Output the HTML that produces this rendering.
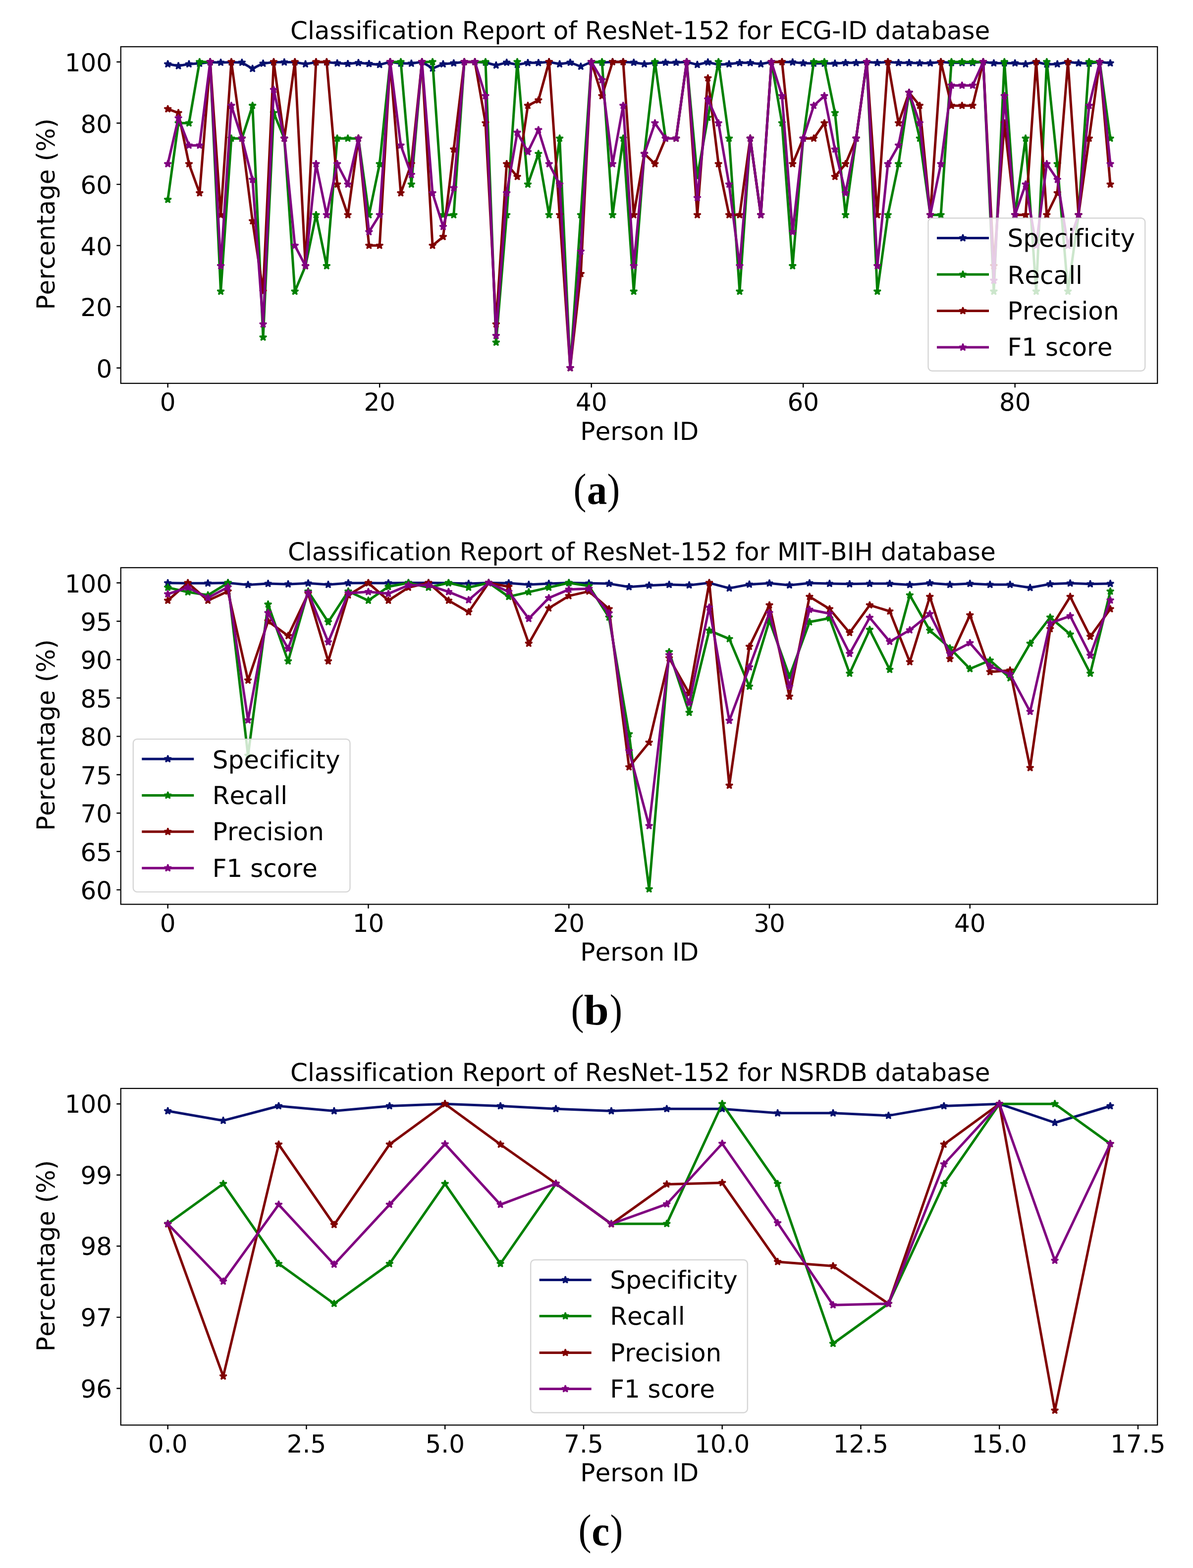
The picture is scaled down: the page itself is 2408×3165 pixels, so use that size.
<!DOCTYPE html>
<html lang="en">
<head>
<meta charset="utf-8">
<title>Classification Report of ResNet-152</title>
<style>
html,body{margin:0;padding:0;background:#fff;}
body{width:2408px;height:3165px;overflow:hidden;}
svg{display:block;}
.t{font-family:"DejaVu Sans", "Liberation Sans", sans-serif;font-size:50px;fill:#000;font-kerning:none;font-variant-ligatures:none;text-rendering:geometricPrecision;}
.cap{font-family:"Liberation Serif", "DejaVu Serif", serif;font-size:100px;fill:#000;}
.cap .b{font-weight:bold;}
.ln{fill:none;stroke-width:5;stroke-linejoin:round;}
.mk{stroke-width:2.78;stroke-linejoin:bevel;}
.tk{fill:none;stroke:#000;stroke-width:2.4;}
.sp{fill:none;stroke:#000;stroke-width:2.2;stroke-linejoin:miter;}
.lg{fill:#fff;fill-opacity:.8;stroke:#ccc;stroke-opacity:.8;stroke-width:2.4;}
</style>
</head>
<body>
<svg width="2408" height="3165" viewBox="0 0 2408 3165">
<rect width="2408" height="3165" fill="#fff"/>
<g class="chart">
<text class="t" x="1292.2" y="78.6" text-anchor="middle" font-size="50">Classification Report of ResNet-152 for ECG-ID database</text>
<clipPath id="c0"><rect x="243.8" y="94.3" width="2092.4" height="679.5"/></clipPath>
<g clip-path="url(#c0)">
<polyline class="ln" stroke="#06106e" points="338.7,129.32 360.07,133.03 381.45,129.32 402.82,128.09 424.2,125.62 445.57,126.24 466.95,125.62 488.32,126.24 509.7,138.59 531.08,128.09 552.45,125.62 573.83,125.62 595.2,125.62 616.58,129.32 637.95,125.62 659.33,125.62 680.7,127.47 702.08,128.71 723.45,126.85 744.83,128.71 766.2,130.56 787.58,125 808.95,128.09 830.33,128.09 851.7,125 873.08,137.97 894.45,129.32 915.83,127.47 937.2,125 958.58,125 979.95,126.24 1001.33,131.79 1022.7,126.24 1044.08,130.56 1065.45,126.85 1086.83,126.85 1108.2,125 1129.58,129.32 1150.95,126.24 1172.33,134.27 1193.7,125 1215.08,126.24 1236.45,125 1257.83,125 1279.2,126.24 1300.58,129.32 1321.95,126.85 1343.33,126.24 1364.7,126.24 1386.08,125 1407.45,130.56 1428.83,125.62 1450.2,130.56 1471.58,129.32 1492.95,126.85 1514.33,126.85 1535.7,129.32 1557.08,125 1578.45,125 1599.83,125.62 1621.2,127.47 1642.58,128.09 1663.95,128.09 1685.33,128.09 1706.7,126.85 1728.08,126.85 1749.45,125 1770.83,126.85 1792.2,125 1813.58,126.85 1834.95,126.85 1856.33,127.47 1877.7,127.47 1899.08,125 1920.45,126.85 1941.83,126.85 1963.2,126.85 1984.58,125 2005.95,127.47 2027.33,127.47 2048.7,127.47 2070.07,129.32 2091.45,125 2112.82,129.94 2134.2,129.32 2155.57,125 2176.95,127.47 2198.32,128.09 2219.7,125 2241.07,127.47"/>
<path class="mk" fill="#06106e" stroke="#06106e" d="M338.7 121.92L340.36 127.04L345.74 127.04L341.39 130.2L343.05 135.31L338.7 132.15L334.35 135.31L336.01 130.2L331.66 127.04L337.04 127.04ZM360.07 125.63L361.74 130.74L367.11 130.74L362.76 133.9L364.42 139.02L360.07 135.86L355.73 139.02L357.39 133.9L353.04 130.74L358.41 130.74ZM381.45 121.92L383.11 127.04L388.49 127.04L384.14 130.2L385.8 135.31L381.45 132.15L377.1 135.31L378.76 130.2L374.41 127.04L379.79 127.04ZM402.82 120.69L404.49 125.8L409.86 125.8L405.51 128.96L407.17 134.08L402.82 130.92L398.48 134.08L400.14 128.96L395.79 125.8L401.16 125.8ZM424.2 118.22L425.86 123.33L431.24 123.33L426.89 126.49L428.55 131.6L424.2 128.44L419.85 131.6L421.51 126.49L417.16 123.33L422.54 123.33ZM445.57 118.84L447.24 123.95L452.61 123.95L448.26 127.11L449.92 132.22L445.57 129.06L441.23 132.22L442.89 127.11L438.54 123.95L443.91 123.95ZM466.95 118.22L468.61 123.33L473.99 123.33L469.64 126.49L471.3 131.6L466.95 128.44L462.6 131.6L464.26 126.49L459.91 123.33L465.29 123.33ZM488.32 118.84L489.99 123.95L495.36 123.95L491.01 127.11L492.67 132.22L488.32 129.06L483.98 132.22L485.64 127.11L481.29 123.95L486.66 123.95ZM509.7 131.19L511.36 136.3L516.74 136.3L512.39 139.46L514.05 144.58L509.7 141.42L505.35 144.58L507.01 139.46L502.66 136.3L508.04 136.3ZM531.08 120.69L532.74 125.8L538.11 125.8L533.76 128.96L535.42 134.08L531.08 130.92L526.73 134.08L528.39 128.96L524.04 125.8L529.41 125.8ZM552.45 118.22L554.11 123.33L559.49 123.33L555.14 126.49L556.8 131.6L552.45 128.44L548.1 131.6L549.76 126.49L545.41 123.33L550.79 123.33ZM573.83 118.22L575.49 123.33L580.86 123.33L576.51 126.49L578.17 131.6L573.83 128.44L569.48 131.6L571.14 126.49L566.79 123.33L572.16 123.33ZM595.2 118.22L596.86 123.33L602.24 123.33L597.89 126.49L599.55 131.6L595.2 128.44L590.85 131.6L592.51 126.49L588.16 123.33L593.54 123.33ZM616.58 121.92L618.24 127.04L623.61 127.04L619.26 130.2L620.92 135.31L616.58 132.15L612.23 135.31L613.89 130.2L609.54 127.04L614.91 127.04ZM637.95 118.22L639.61 123.33L644.99 123.33L640.64 126.49L642.3 131.6L637.95 128.44L633.6 131.6L635.26 126.49L630.91 123.33L636.29 123.33ZM659.33 118.22L660.99 123.33L666.36 123.33L662.01 126.49L663.67 131.6L659.33 128.44L654.98 131.6L656.64 126.49L652.29 123.33L657.66 123.33ZM680.7 120.07L682.36 125.18L687.74 125.18L683.39 128.34L685.05 133.46L680.7 130.3L676.35 133.46L678.01 128.34L673.66 125.18L679.04 125.18ZM702.08 121.31L703.74 126.42L709.11 126.42L704.76 129.58L706.42 134.69L702.08 131.53L697.73 134.69L699.39 129.58L695.04 126.42L700.41 126.42ZM723.45 119.45L725.11 124.57L730.49 124.57L726.14 127.73L727.8 132.84L723.45 129.68L719.1 132.84L720.76 127.73L716.41 124.57L721.79 124.57ZM744.83 121.31L746.49 126.42L751.86 126.42L747.51 129.58L749.17 134.69L744.83 131.53L740.48 134.69L742.14 129.58L737.79 126.42L743.16 126.42ZM766.2 123.16L767.86 128.27L773.24 128.27L768.89 131.43L770.55 136.55L766.2 133.39L761.85 136.55L763.51 131.43L759.16 128.27L764.54 128.27ZM787.58 117.6L789.24 122.71L794.61 122.71L790.26 125.87L791.92 130.99L787.58 127.83L783.23 130.99L784.89 125.87L780.54 122.71L785.91 122.71ZM808.95 120.69L810.61 125.8L815.99 125.8L811.64 128.96L813.3 134.08L808.95 130.92L804.6 134.08L806.26 128.96L801.91 125.8L807.29 125.8ZM830.33 120.69L831.99 125.8L837.36 125.8L833.01 128.96L834.67 134.08L830.33 130.92L825.98 134.08L827.64 128.96L823.29 125.8L828.66 125.8ZM851.7 117.6L853.36 122.71L858.74 122.71L854.39 125.87L856.05 130.99L851.7 127.83L847.35 130.99L849.01 125.87L844.66 122.71L850.04 122.71ZM873.08 130.57L874.74 135.68L880.11 135.68L875.76 138.85L877.42 143.96L873.08 140.8L868.73 143.96L870.39 138.85L866.04 135.68L871.41 135.68ZM894.45 121.92L896.11 127.04L901.49 127.04L897.14 130.2L898.8 135.31L894.45 132.15L890.1 135.31L891.76 130.2L887.41 127.04L892.79 127.04ZM915.83 120.07L917.49 125.18L922.86 125.18L918.51 128.34L920.17 133.46L915.83 130.3L911.48 133.46L913.14 128.34L908.79 125.18L914.16 125.18ZM937.2 117.6L938.86 122.71L944.24 122.71L939.89 125.87L941.55 130.99L937.2 127.83L932.85 130.99L934.51 125.87L930.16 122.71L935.54 122.71ZM958.58 117.6L960.24 122.71L965.61 122.71L961.26 125.87L962.92 130.99L958.58 127.83L954.23 130.99L955.89 125.87L951.54 122.71L956.91 122.71ZM979.95 118.84L981.61 123.95L986.99 123.95L982.64 127.11L984.3 132.22L979.95 129.06L975.6 132.22L977.26 127.11L972.91 123.95L978.29 123.95ZM1001.33 124.39L1002.99 129.51L1008.36 129.51L1004.01 132.67L1005.67 137.78L1001.33 134.62L996.98 137.78L998.64 132.67L994.29 129.51L999.66 129.51ZM1022.7 118.84L1024.36 123.95L1029.74 123.95L1025.39 127.11L1027.05 132.22L1022.7 129.06L1018.35 132.22L1020.01 127.11L1015.66 123.95L1021.04 123.95ZM1044.08 123.16L1045.74 128.27L1051.11 128.27L1046.76 131.43L1048.42 136.55L1044.08 133.39L1039.73 136.55L1041.39 131.43L1037.04 128.27L1042.41 128.27ZM1065.45 119.45L1067.11 124.57L1072.49 124.57L1068.14 127.73L1069.8 132.84L1065.45 129.68L1061.1 132.84L1062.76 127.73L1058.41 124.57L1063.79 124.57ZM1086.83 119.45L1088.49 124.57L1093.86 124.57L1089.51 127.73L1091.17 132.84L1086.83 129.68L1082.48 132.84L1084.14 127.73L1079.79 124.57L1085.16 124.57ZM1108.2 117.6L1109.86 122.71L1115.24 122.71L1110.89 125.87L1112.55 130.99L1108.2 127.83L1103.85 130.99L1105.51 125.87L1101.16 122.71L1106.54 122.71ZM1129.58 121.92L1131.24 127.04L1136.61 127.04L1132.26 130.2L1133.92 135.31L1129.58 132.15L1125.23 135.31L1126.89 130.2L1122.54 127.04L1127.91 127.04ZM1150.95 118.84L1152.61 123.95L1157.99 123.95L1153.64 127.11L1155.3 132.22L1150.95 129.06L1146.6 132.22L1148.26 127.11L1143.91 123.95L1149.29 123.95ZM1172.33 126.87L1173.99 131.98L1179.36 131.98L1175.01 135.14L1176.67 140.25L1172.33 137.09L1167.98 140.25L1169.64 135.14L1165.29 131.98L1170.66 131.98ZM1193.7 117.6L1195.36 122.71L1200.74 122.71L1196.39 125.87L1198.05 130.99L1193.7 127.83L1189.35 130.99L1191.01 125.87L1186.66 122.71L1192.04 122.71ZM1215.08 118.84L1216.74 123.95L1222.11 123.95L1217.76 127.11L1219.42 132.22L1215.08 129.06L1210.73 132.22L1212.39 127.11L1208.04 123.95L1213.41 123.95ZM1236.45 117.6L1238.11 122.71L1243.49 122.71L1239.14 125.87L1240.8 130.99L1236.45 127.83L1232.1 130.99L1233.76 125.87L1229.41 122.71L1234.79 122.71ZM1257.83 117.6L1259.49 122.71L1264.86 122.71L1260.51 125.87L1262.17 130.99L1257.83 127.83L1253.48 130.99L1255.14 125.87L1250.79 122.71L1256.16 122.71ZM1279.2 118.84L1280.86 123.95L1286.24 123.95L1281.89 127.11L1283.55 132.22L1279.2 129.06L1274.85 132.22L1276.51 127.11L1272.16 123.95L1277.54 123.95ZM1300.58 121.92L1302.24 127.04L1307.61 127.04L1303.26 130.2L1304.92 135.31L1300.58 132.15L1296.23 135.31L1297.89 130.2L1293.54 127.04L1298.91 127.04ZM1321.95 119.45L1323.61 124.57L1328.99 124.57L1324.64 127.73L1326.3 132.84L1321.95 129.68L1317.6 132.84L1319.26 127.73L1314.91 124.57L1320.29 124.57ZM1343.33 118.84L1344.99 123.95L1350.36 123.95L1346.01 127.11L1347.67 132.22L1343.33 129.06L1338.98 132.22L1340.64 127.11L1336.29 123.95L1341.66 123.95ZM1364.7 118.84L1366.36 123.95L1371.74 123.95L1367.39 127.11L1369.05 132.22L1364.7 129.06L1360.35 132.22L1362.01 127.11L1357.66 123.95L1363.04 123.95ZM1386.08 117.6L1387.74 122.71L1393.11 122.71L1388.76 125.87L1390.42 130.99L1386.08 127.83L1381.73 130.99L1383.39 125.87L1379.04 122.71L1384.41 122.71ZM1407.45 123.16L1409.11 128.27L1414.49 128.27L1410.14 131.43L1411.8 136.55L1407.45 133.39L1403.1 136.55L1404.76 131.43L1400.41 128.27L1405.79 128.27ZM1428.83 118.22L1430.49 123.33L1435.86 123.33L1431.51 126.49L1433.17 131.6L1428.83 128.44L1424.48 131.6L1426.14 126.49L1421.79 123.33L1427.16 123.33ZM1450.2 123.16L1451.86 128.27L1457.24 128.27L1452.89 131.43L1454.55 136.55L1450.2 133.39L1445.85 136.55L1447.51 131.43L1443.16 128.27L1448.54 128.27ZM1471.58 121.92L1473.24 127.04L1478.61 127.04L1474.26 130.2L1475.92 135.31L1471.58 132.15L1467.23 135.31L1468.89 130.2L1464.54 127.04L1469.91 127.04ZM1492.95 119.45L1494.61 124.57L1499.99 124.57L1495.64 127.73L1497.3 132.84L1492.95 129.68L1488.6 132.84L1490.26 127.73L1485.91 124.57L1491.29 124.57ZM1514.33 119.45L1515.99 124.57L1521.36 124.57L1517.01 127.73L1518.67 132.84L1514.33 129.68L1509.98 132.84L1511.64 127.73L1507.29 124.57L1512.66 124.57ZM1535.7 121.92L1537.36 127.04L1542.74 127.04L1538.39 130.2L1540.05 135.31L1535.7 132.15L1531.35 135.31L1533.01 130.2L1528.66 127.04L1534.04 127.04ZM1557.08 117.6L1558.74 122.71L1564.11 122.71L1559.76 125.87L1561.42 130.99L1557.08 127.83L1552.73 130.99L1554.39 125.87L1550.04 122.71L1555.41 122.71ZM1578.45 117.6L1580.11 122.71L1585.49 122.71L1581.14 125.87L1582.8 130.99L1578.45 127.83L1574.1 130.99L1575.76 125.87L1571.41 122.71L1576.79 122.71ZM1599.83 118.22L1601.49 123.33L1606.86 123.33L1602.51 126.49L1604.17 131.6L1599.83 128.44L1595.48 131.6L1597.14 126.49L1592.79 123.33L1598.16 123.33ZM1621.2 120.07L1622.86 125.18L1628.24 125.18L1623.89 128.34L1625.55 133.46L1621.2 130.3L1616.85 133.46L1618.51 128.34L1614.16 125.18L1619.54 125.18ZM1642.58 120.69L1644.24 125.8L1649.61 125.8L1645.26 128.96L1646.92 134.08L1642.58 130.92L1638.23 134.08L1639.89 128.96L1635.54 125.8L1640.91 125.8ZM1663.95 120.69L1665.61 125.8L1670.99 125.8L1666.64 128.96L1668.3 134.08L1663.95 130.92L1659.6 134.08L1661.26 128.96L1656.91 125.8L1662.29 125.8ZM1685.33 120.69L1686.99 125.8L1692.36 125.8L1688.01 128.96L1689.67 134.08L1685.33 130.92L1680.98 134.08L1682.64 128.96L1678.29 125.8L1683.66 125.8ZM1706.7 119.45L1708.36 124.57L1713.74 124.57L1709.39 127.73L1711.05 132.84L1706.7 129.68L1702.35 132.84L1704.01 127.73L1699.66 124.57L1705.04 124.57ZM1728.08 119.45L1729.74 124.57L1735.11 124.57L1730.76 127.73L1732.42 132.84L1728.08 129.68L1723.73 132.84L1725.39 127.73L1721.04 124.57L1726.41 124.57ZM1749.45 117.6L1751.11 122.71L1756.49 122.71L1752.14 125.87L1753.8 130.99L1749.45 127.83L1745.1 130.99L1746.76 125.87L1742.41 122.71L1747.79 122.71ZM1770.83 119.45L1772.49 124.57L1777.86 124.57L1773.51 127.73L1775.17 132.84L1770.83 129.68L1766.48 132.84L1768.14 127.73L1763.79 124.57L1769.16 124.57ZM1792.2 117.6L1793.86 122.71L1799.24 122.71L1794.89 125.87L1796.55 130.99L1792.2 127.83L1787.85 130.99L1789.51 125.87L1785.16 122.71L1790.54 122.71ZM1813.58 119.45L1815.24 124.57L1820.61 124.57L1816.26 127.73L1817.92 132.84L1813.58 129.68L1809.23 132.84L1810.89 127.73L1806.54 124.57L1811.91 124.57ZM1834.95 119.45L1836.61 124.57L1841.99 124.57L1837.64 127.73L1839.3 132.84L1834.95 129.68L1830.6 132.84L1832.26 127.73L1827.91 124.57L1833.29 124.57ZM1856.33 120.07L1857.99 125.18L1863.36 125.18L1859.01 128.34L1860.67 133.46L1856.33 130.3L1851.98 133.46L1853.64 128.34L1849.29 125.18L1854.66 125.18ZM1877.7 120.07L1879.36 125.18L1884.74 125.18L1880.39 128.34L1882.05 133.46L1877.7 130.3L1873.35 133.46L1875.01 128.34L1870.66 125.18L1876.04 125.18ZM1899.08 117.6L1900.74 122.71L1906.11 122.71L1901.76 125.87L1903.42 130.99L1899.08 127.83L1894.73 130.99L1896.39 125.87L1892.04 122.71L1897.41 122.71ZM1920.45 119.45L1922.11 124.57L1927.49 124.57L1923.14 127.73L1924.8 132.84L1920.45 129.68L1916.1 132.84L1917.76 127.73L1913.41 124.57L1918.79 124.57ZM1941.83 119.45L1943.49 124.57L1948.86 124.57L1944.51 127.73L1946.17 132.84L1941.83 129.68L1937.48 132.84L1939.14 127.73L1934.79 124.57L1940.16 124.57ZM1963.2 119.45L1964.86 124.57L1970.24 124.57L1965.89 127.73L1967.55 132.84L1963.2 129.68L1958.85 132.84L1960.51 127.73L1956.16 124.57L1961.54 124.57ZM1984.58 117.6L1986.24 122.71L1991.61 122.71L1987.26 125.87L1988.92 130.99L1984.58 127.83L1980.23 130.99L1981.89 125.87L1977.54 122.71L1982.91 122.71ZM2005.95 120.07L2007.61 125.18L2012.99 125.18L2008.64 128.34L2010.3 133.46L2005.95 130.3L2001.6 133.46L2003.26 128.34L1998.91 125.18L2004.29 125.18ZM2027.33 120.07L2028.99 125.18L2034.36 125.18L2030.01 128.34L2031.67 133.46L2027.33 130.3L2022.98 133.46L2024.64 128.34L2020.29 125.18L2025.66 125.18ZM2048.7 120.07L2050.36 125.18L2055.74 125.18L2051.39 128.34L2053.05 133.46L2048.7 130.3L2044.35 133.46L2046.01 128.34L2041.66 125.18L2047.04 125.18ZM2070.07 121.92L2071.74 127.04L2077.11 127.04L2072.76 130.2L2074.42 135.31L2070.07 132.15L2065.73 135.31L2067.39 130.2L2063.04 127.04L2068.41 127.04ZM2091.45 117.6L2093.11 122.71L2098.49 122.71L2094.14 125.87L2095.8 130.99L2091.45 127.83L2087.1 130.99L2088.76 125.87L2084.41 122.71L2089.79 122.71ZM2112.82 122.54L2114.49 127.65L2119.86 127.65L2115.51 130.82L2117.17 135.93L2112.82 132.77L2108.48 135.93L2110.14 130.82L2105.79 127.65L2111.16 127.65ZM2134.2 121.92L2135.86 127.04L2141.24 127.04L2136.89 130.2L2138.55 135.31L2134.2 132.15L2129.85 135.31L2131.51 130.2L2127.16 127.04L2132.54 127.04ZM2155.57 117.6L2157.24 122.71L2162.61 122.71L2158.26 125.87L2159.92 130.99L2155.57 127.83L2151.23 130.99L2152.89 125.87L2148.54 122.71L2153.91 122.71ZM2176.95 120.07L2178.61 125.18L2183.99 125.18L2179.64 128.34L2181.3 133.46L2176.95 130.3L2172.6 133.46L2174.26 128.34L2169.91 125.18L2175.29 125.18ZM2198.32 120.69L2199.99 125.8L2205.36 125.8L2201.01 128.96L2202.67 134.08L2198.32 130.92L2193.98 134.08L2195.64 128.96L2191.29 125.8L2196.66 125.8ZM2219.7 117.6L2221.36 122.71L2226.74 122.71L2222.39 125.87L2224.05 130.99L2219.7 127.83L2215.35 130.99L2217.01 125.87L2212.66 122.71L2218.04 122.71ZM2241.07 120.07L2242.74 125.18L2248.11 125.18L2243.76 128.34L2245.42 133.46L2241.07 130.3L2236.73 133.46L2238.39 128.34L2234.04 125.18L2239.41 125.18Z"/>
<polyline class="ln" stroke="#008000" points="338.7,402.97 360.07,248.54 381.45,248.54 402.82,125 424.2,125 445.57,588.28 466.95,279.43 488.32,279.43 509.7,213.24 531.08,680.93 552.45,227.95 573.83,279.43 595.2,588.28 616.58,536.8 637.95,433.85 659.33,536.8 680.7,279.43 702.08,279.43 723.45,279.43 744.83,433.85 766.2,330.9 787.58,125 808.95,125 830.33,372.08 851.7,125 873.08,125 894.45,433.85 915.83,433.85 937.2,125 958.58,125 979.95,125 1001.33,691.23 1022.7,433.85 1044.08,125 1065.45,372.08 1086.83,310.31 1108.2,433.85 1129.58,279.43 1150.95,742.7 1172.33,433.85 1193.7,125 1215.08,125 1236.45,433.85 1257.83,279.43 1279.2,588.28 1300.58,310.31 1321.95,125 1343.33,279.43 1364.7,279.43 1386.08,125 1407.45,356.64 1428.83,237.31 1450.2,125 1471.58,279.43 1492.95,588.28 1514.33,279.43 1535.7,433.85 1557.08,125 1578.45,248.54 1599.83,536.8 1621.2,279.43 1642.58,125 1663.95,125 1685.33,227.95 1706.7,433.85 1728.08,279.43 1749.45,125 1770.83,588.28 1792.2,433.85 1813.58,330.9 1834.95,186.77 1856.33,279.43 1877.7,433.85 1899.08,433.85 1920.45,125 1941.83,125 1963.2,125 1984.58,125 2005.95,588.28 2027.33,125 2048.7,433.85 2070.07,279.43 2091.45,588.28 2112.82,125 2134.2,330.9 2155.57,588.28 2176.95,433.85 2198.32,125 2219.7,125 2241.07,279.43"/>
<path class="mk" fill="#008000" stroke="#008000" d="M338.7 395.57L340.36 400.68L345.74 400.68L341.39 403.84L343.05 408.95L338.7 405.79L334.35 408.95L336.01 403.84L331.66 400.68L337.04 400.68ZM360.07 241.14L361.74 246.25L367.11 246.25L362.76 249.41L364.42 254.53L360.07 251.37L355.73 254.53L357.39 249.41L353.04 246.25L358.41 246.25ZM381.45 241.14L383.11 246.25L388.49 246.25L384.14 249.41L385.8 254.53L381.45 251.37L377.1 254.53L378.76 249.41L374.41 246.25L379.79 246.25ZM402.82 117.6L404.49 122.71L409.86 122.71L405.51 125.87L407.17 130.99L402.82 127.83L398.48 130.99L400.14 125.87L395.79 122.71L401.16 122.71ZM424.2 117.6L425.86 122.71L431.24 122.71L426.89 125.87L428.55 130.99L424.2 127.83L419.85 130.99L421.51 125.87L417.16 122.71L422.54 122.71ZM445.57 580.88L447.24 585.99L452.61 585.99L448.26 589.15L449.92 594.26L445.57 591.1L441.23 594.26L442.89 589.15L438.54 585.99L443.91 585.99ZM466.95 272.03L468.61 277.14L473.99 277.14L469.64 280.3L471.3 285.41L466.95 282.25L462.6 285.41L464.26 280.3L459.91 277.14L465.29 277.14ZM488.32 272.03L489.99 277.14L495.36 277.14L491.01 280.3L492.67 285.41L488.32 282.25L483.98 285.41L485.64 280.3L481.29 277.14L486.66 277.14ZM509.7 205.84L511.36 210.96L516.74 210.96L512.39 214.12L514.05 219.23L509.7 216.07L505.35 219.23L507.01 214.12L502.66 210.96L508.04 210.96ZM531.08 673.53L532.74 678.64L538.11 678.64L533.76 681.8L535.42 686.92L531.08 683.76L526.73 686.92L528.39 681.8L524.04 678.64L529.41 678.64ZM552.45 220.55L554.11 225.66L559.49 225.66L555.14 228.82L556.8 233.94L552.45 230.78L548.1 233.94L549.76 228.82L545.41 225.66L550.79 225.66ZM573.83 272.03L575.49 277.14L580.86 277.14L576.51 280.3L578.17 285.41L573.83 282.25L569.48 285.41L571.14 280.3L566.79 277.14L572.16 277.14ZM595.2 580.88L596.86 585.99L602.24 585.99L597.89 589.15L599.55 594.26L595.2 591.1L590.85 594.26L592.51 589.15L588.16 585.99L593.54 585.99ZM616.58 529.4L618.24 534.51L623.61 534.51L619.26 537.67L620.92 542.79L616.58 539.63L612.23 542.79L613.89 537.67L609.54 534.51L614.91 534.51ZM637.95 426.45L639.61 431.56L644.99 431.56L640.64 434.72L642.3 439.84L637.95 436.68L633.6 439.84L635.26 434.72L630.91 431.56L636.29 431.56ZM659.33 529.4L660.99 534.51L666.36 534.51L662.01 537.67L663.67 542.79L659.33 539.63L654.98 542.79L656.64 537.67L652.29 534.51L657.66 534.51ZM680.7 272.03L682.36 277.14L687.74 277.14L683.39 280.3L685.05 285.41L680.7 282.25L676.35 285.41L678.01 280.3L673.66 277.14L679.04 277.14ZM702.08 272.03L703.74 277.14L709.11 277.14L704.76 280.3L706.42 285.41L702.08 282.25L697.73 285.41L699.39 280.3L695.04 277.14L700.41 277.14ZM723.45 272.03L725.11 277.14L730.49 277.14L726.14 280.3L727.8 285.41L723.45 282.25L719.1 285.41L720.76 280.3L716.41 277.14L721.79 277.14ZM744.83 426.45L746.49 431.56L751.86 431.56L747.51 434.72L749.17 439.84L744.83 436.68L740.48 439.84L742.14 434.72L737.79 431.56L743.16 431.56ZM766.2 323.5L767.86 328.61L773.24 328.61L768.89 331.77L770.55 336.89L766.2 333.73L761.85 336.89L763.51 331.77L759.16 328.61L764.54 328.61ZM787.58 117.6L789.24 122.71L794.61 122.71L790.26 125.87L791.92 130.99L787.58 127.83L783.23 130.99L784.89 125.87L780.54 122.71L785.91 122.71ZM808.95 117.6L810.61 122.71L815.99 122.71L811.64 125.87L813.3 130.99L808.95 127.83L804.6 130.99L806.26 125.87L801.91 122.71L807.29 122.71ZM830.33 364.68L831.99 369.79L837.36 369.79L833.01 372.95L834.67 378.07L830.33 374.91L825.98 378.07L827.64 372.95L823.29 369.79L828.66 369.79ZM851.7 117.6L853.36 122.71L858.74 122.71L854.39 125.87L856.05 130.99L851.7 127.83L847.35 130.99L849.01 125.87L844.66 122.71L850.04 122.71ZM873.08 117.6L874.74 122.71L880.11 122.71L875.76 125.87L877.42 130.99L873.08 127.83L868.73 130.99L870.39 125.87L866.04 122.71L871.41 122.71ZM894.45 426.45L896.11 431.56L901.49 431.56L897.14 434.72L898.8 439.84L894.45 436.68L890.1 439.84L891.76 434.72L887.41 431.56L892.79 431.56ZM915.83 426.45L917.49 431.56L922.86 431.56L918.51 434.72L920.17 439.84L915.83 436.68L911.48 439.84L913.14 434.72L908.79 431.56L914.16 431.56ZM937.2 117.6L938.86 122.71L944.24 122.71L939.89 125.87L941.55 130.99L937.2 127.83L932.85 130.99L934.51 125.87L930.16 122.71L935.54 122.71ZM958.58 117.6L960.24 122.71L965.61 122.71L961.26 125.87L962.92 130.99L958.58 127.83L954.23 130.99L955.89 125.87L951.54 122.71L956.91 122.71ZM979.95 117.6L981.61 122.71L986.99 122.71L982.64 125.87L984.3 130.99L979.95 127.83L975.6 130.99L977.26 125.87L972.91 122.71L978.29 122.71ZM1001.33 683.83L1002.99 688.94L1008.36 688.94L1004.01 692.1L1005.67 697.21L1001.33 694.05L996.98 697.21L998.64 692.1L994.29 688.94L999.66 688.94ZM1022.7 426.45L1024.36 431.56L1029.74 431.56L1025.39 434.72L1027.05 439.84L1022.7 436.68L1018.35 439.84L1020.01 434.72L1015.66 431.56L1021.04 431.56ZM1044.08 117.6L1045.74 122.71L1051.11 122.71L1046.76 125.87L1048.42 130.99L1044.08 127.83L1039.73 130.99L1041.39 125.87L1037.04 122.71L1042.41 122.71ZM1065.45 364.68L1067.11 369.79L1072.49 369.79L1068.14 372.95L1069.8 378.07L1065.45 374.91L1061.1 378.07L1062.76 372.95L1058.41 369.79L1063.79 369.79ZM1086.83 302.91L1088.49 308.02L1093.86 308.02L1089.51 311.18L1091.17 316.3L1086.83 313.14L1082.48 316.3L1084.14 311.18L1079.79 308.02L1085.16 308.02ZM1108.2 426.45L1109.86 431.56L1115.24 431.56L1110.89 434.72L1112.55 439.84L1108.2 436.68L1103.85 439.84L1105.51 434.72L1101.16 431.56L1106.54 431.56ZM1129.58 272.03L1131.24 277.14L1136.61 277.14L1132.26 280.3L1133.92 285.41L1129.58 282.25L1125.23 285.41L1126.89 280.3L1122.54 277.14L1127.91 277.14ZM1150.95 735.3L1152.61 740.41L1157.99 740.41L1153.64 743.57L1155.3 748.69L1150.95 745.53L1146.6 748.69L1148.26 743.57L1143.91 740.41L1149.29 740.41ZM1172.33 426.45L1173.99 431.56L1179.36 431.56L1175.01 434.72L1176.67 439.84L1172.33 436.68L1167.98 439.84L1169.64 434.72L1165.29 431.56L1170.66 431.56ZM1193.7 117.6L1195.36 122.71L1200.74 122.71L1196.39 125.87L1198.05 130.99L1193.7 127.83L1189.35 130.99L1191.01 125.87L1186.66 122.71L1192.04 122.71ZM1215.08 117.6L1216.74 122.71L1222.11 122.71L1217.76 125.87L1219.42 130.99L1215.08 127.83L1210.73 130.99L1212.39 125.87L1208.04 122.71L1213.41 122.71ZM1236.45 426.45L1238.11 431.56L1243.49 431.56L1239.14 434.72L1240.8 439.84L1236.45 436.68L1232.1 439.84L1233.76 434.72L1229.41 431.56L1234.79 431.56ZM1257.83 272.03L1259.49 277.14L1264.86 277.14L1260.51 280.3L1262.17 285.41L1257.83 282.25L1253.48 285.41L1255.14 280.3L1250.79 277.14L1256.16 277.14ZM1279.2 580.88L1280.86 585.99L1286.24 585.99L1281.89 589.15L1283.55 594.26L1279.2 591.1L1274.85 594.26L1276.51 589.15L1272.16 585.99L1277.54 585.99ZM1300.58 302.91L1302.24 308.02L1307.61 308.02L1303.26 311.18L1304.92 316.3L1300.58 313.14L1296.23 316.3L1297.89 311.18L1293.54 308.02L1298.91 308.02ZM1321.95 117.6L1323.61 122.71L1328.99 122.71L1324.64 125.87L1326.3 130.99L1321.95 127.83L1317.6 130.99L1319.26 125.87L1314.91 122.71L1320.29 122.71ZM1343.33 272.03L1344.99 277.14L1350.36 277.14L1346.01 280.3L1347.67 285.41L1343.33 282.25L1338.98 285.41L1340.64 280.3L1336.29 277.14L1341.66 277.14ZM1364.7 272.03L1366.36 277.14L1371.74 277.14L1367.39 280.3L1369.05 285.41L1364.7 282.25L1360.35 285.41L1362.01 280.3L1357.66 277.14L1363.04 277.14ZM1386.08 117.6L1387.74 122.71L1393.11 122.71L1388.76 125.87L1390.42 130.99L1386.08 127.83L1381.73 130.99L1383.39 125.87L1379.04 122.71L1384.41 122.71ZM1407.45 349.24L1409.11 354.35L1414.49 354.35L1410.14 357.51L1411.8 362.62L1407.45 359.46L1403.1 362.62L1404.76 357.51L1400.41 354.35L1405.79 354.35ZM1428.83 229.91L1430.49 235.02L1435.86 235.02L1431.51 238.18L1433.17 243.3L1428.83 240.14L1424.48 243.3L1426.14 238.18L1421.79 235.02L1427.16 235.02ZM1450.2 117.6L1451.86 122.71L1457.24 122.71L1452.89 125.87L1454.55 130.99L1450.2 127.83L1445.85 130.99L1447.51 125.87L1443.16 122.71L1448.54 122.71ZM1471.58 272.03L1473.24 277.14L1478.61 277.14L1474.26 280.3L1475.92 285.41L1471.58 282.25L1467.23 285.41L1468.89 280.3L1464.54 277.14L1469.91 277.14ZM1492.95 580.88L1494.61 585.99L1499.99 585.99L1495.64 589.15L1497.3 594.26L1492.95 591.1L1488.6 594.26L1490.26 589.15L1485.91 585.99L1491.29 585.99ZM1514.33 272.03L1515.99 277.14L1521.36 277.14L1517.01 280.3L1518.67 285.41L1514.33 282.25L1509.98 285.41L1511.64 280.3L1507.29 277.14L1512.66 277.14ZM1535.7 426.45L1537.36 431.56L1542.74 431.56L1538.39 434.72L1540.05 439.84L1535.7 436.68L1531.35 439.84L1533.01 434.72L1528.66 431.56L1534.04 431.56ZM1557.08 117.6L1558.74 122.71L1564.11 122.71L1559.76 125.87L1561.42 130.99L1557.08 127.83L1552.73 130.99L1554.39 125.87L1550.04 122.71L1555.41 122.71ZM1578.45 241.14L1580.11 246.25L1585.49 246.25L1581.14 249.41L1582.8 254.53L1578.45 251.37L1574.1 254.53L1575.76 249.41L1571.41 246.25L1576.79 246.25ZM1599.83 529.4L1601.49 534.51L1606.86 534.51L1602.51 537.67L1604.17 542.79L1599.83 539.63L1595.48 542.79L1597.14 537.67L1592.79 534.51L1598.16 534.51ZM1621.2 272.03L1622.86 277.14L1628.24 277.14L1623.89 280.3L1625.55 285.41L1621.2 282.25L1616.85 285.41L1618.51 280.3L1614.16 277.14L1619.54 277.14ZM1642.58 117.6L1644.24 122.71L1649.61 122.71L1645.26 125.87L1646.92 130.99L1642.58 127.83L1638.23 130.99L1639.89 125.87L1635.54 122.71L1640.91 122.71ZM1663.95 117.6L1665.61 122.71L1670.99 122.71L1666.64 125.87L1668.3 130.99L1663.95 127.83L1659.6 130.99L1661.26 125.87L1656.91 122.71L1662.29 122.71ZM1685.33 220.55L1686.99 225.66L1692.36 225.66L1688.01 228.82L1689.67 233.94L1685.33 230.78L1680.98 233.94L1682.64 228.82L1678.29 225.66L1683.66 225.66ZM1706.7 426.45L1708.36 431.56L1713.74 431.56L1709.39 434.72L1711.05 439.84L1706.7 436.68L1702.35 439.84L1704.01 434.72L1699.66 431.56L1705.04 431.56ZM1728.08 272.03L1729.74 277.14L1735.11 277.14L1730.76 280.3L1732.42 285.41L1728.08 282.25L1723.73 285.41L1725.39 280.3L1721.04 277.14L1726.41 277.14ZM1749.45 117.6L1751.11 122.71L1756.49 122.71L1752.14 125.87L1753.8 130.99L1749.45 127.83L1745.1 130.99L1746.76 125.87L1742.41 122.71L1747.79 122.71ZM1770.83 580.88L1772.49 585.99L1777.86 585.99L1773.51 589.15L1775.17 594.26L1770.83 591.1L1766.48 594.26L1768.14 589.15L1763.79 585.99L1769.16 585.99ZM1792.2 426.45L1793.86 431.56L1799.24 431.56L1794.89 434.72L1796.55 439.84L1792.2 436.68L1787.85 439.84L1789.51 434.72L1785.16 431.56L1790.54 431.56ZM1813.58 323.5L1815.24 328.61L1820.61 328.61L1816.26 331.77L1817.92 336.89L1813.58 333.73L1809.23 336.89L1810.89 331.77L1806.54 328.61L1811.91 328.61ZM1834.95 179.37L1836.61 184.48L1841.99 184.48L1837.64 187.64L1839.3 192.76L1834.95 189.6L1830.6 192.76L1832.26 187.64L1827.91 184.48L1833.29 184.48ZM1856.33 272.03L1857.99 277.14L1863.36 277.14L1859.01 280.3L1860.67 285.41L1856.33 282.25L1851.98 285.41L1853.64 280.3L1849.29 277.14L1854.66 277.14ZM1877.7 426.45L1879.36 431.56L1884.74 431.56L1880.39 434.72L1882.05 439.84L1877.7 436.68L1873.35 439.84L1875.01 434.72L1870.66 431.56L1876.04 431.56ZM1899.08 426.45L1900.74 431.56L1906.11 431.56L1901.76 434.72L1903.42 439.84L1899.08 436.68L1894.73 439.84L1896.39 434.72L1892.04 431.56L1897.41 431.56ZM1920.45 117.6L1922.11 122.71L1927.49 122.71L1923.14 125.87L1924.8 130.99L1920.45 127.83L1916.1 130.99L1917.76 125.87L1913.41 122.71L1918.79 122.71ZM1941.83 117.6L1943.49 122.71L1948.86 122.71L1944.51 125.87L1946.17 130.99L1941.83 127.83L1937.48 130.99L1939.14 125.87L1934.79 122.71L1940.16 122.71ZM1963.2 117.6L1964.86 122.71L1970.24 122.71L1965.89 125.87L1967.55 130.99L1963.2 127.83L1958.85 130.99L1960.51 125.87L1956.16 122.71L1961.54 122.71ZM1984.58 117.6L1986.24 122.71L1991.61 122.71L1987.26 125.87L1988.92 130.99L1984.58 127.83L1980.23 130.99L1981.89 125.87L1977.54 122.71L1982.91 122.71ZM2005.95 580.88L2007.61 585.99L2012.99 585.99L2008.64 589.15L2010.3 594.26L2005.95 591.1L2001.6 594.26L2003.26 589.15L1998.91 585.99L2004.29 585.99ZM2027.33 117.6L2028.99 122.71L2034.36 122.71L2030.01 125.87L2031.67 130.99L2027.33 127.83L2022.98 130.99L2024.64 125.87L2020.29 122.71L2025.66 122.71ZM2048.7 426.45L2050.36 431.56L2055.74 431.56L2051.39 434.72L2053.05 439.84L2048.7 436.68L2044.35 439.84L2046.01 434.72L2041.66 431.56L2047.04 431.56ZM2070.07 272.03L2071.74 277.14L2077.11 277.14L2072.76 280.3L2074.42 285.41L2070.07 282.25L2065.73 285.41L2067.39 280.3L2063.04 277.14L2068.41 277.14ZM2091.45 580.88L2093.11 585.99L2098.49 585.99L2094.14 589.15L2095.8 594.26L2091.45 591.1L2087.1 594.26L2088.76 589.15L2084.41 585.99L2089.79 585.99ZM2112.82 117.6L2114.49 122.71L2119.86 122.71L2115.51 125.87L2117.17 130.99L2112.82 127.83L2108.48 130.99L2110.14 125.87L2105.79 122.71L2111.16 122.71ZM2134.2 323.5L2135.86 328.61L2141.24 328.61L2136.89 331.77L2138.55 336.89L2134.2 333.73L2129.85 336.89L2131.51 331.77L2127.16 328.61L2132.54 328.61ZM2155.57 580.88L2157.24 585.99L2162.61 585.99L2158.26 589.15L2159.92 594.26L2155.57 591.1L2151.23 594.26L2152.89 589.15L2148.54 585.99L2153.91 585.99ZM2176.95 426.45L2178.61 431.56L2183.99 431.56L2179.64 434.72L2181.3 439.84L2176.95 436.68L2172.6 439.84L2174.26 434.72L2169.91 431.56L2175.29 431.56ZM2198.32 117.6L2199.99 122.71L2205.36 122.71L2201.01 125.87L2202.67 130.99L2198.32 127.83L2193.98 130.99L2195.64 125.87L2191.29 122.71L2196.66 122.71ZM2219.7 117.6L2221.36 122.71L2226.74 122.71L2222.39 125.87L2224.05 130.99L2219.7 127.83L2215.35 130.99L2217.01 125.87L2212.66 122.71L2218.04 122.71ZM2241.07 272.03L2242.74 277.14L2248.11 277.14L2243.76 280.3L2245.42 285.41L2241.07 282.25L2236.73 285.41L2238.39 280.3L2234.04 277.14L2239.41 277.14Z"/>
<polyline class="ln" stroke="#800000" points="338.7,220.03 360.07,227.95 381.45,330.9 402.82,389.73 424.2,125 445.57,433.85 466.95,125 488.32,279.43 509.7,446.2 531.08,588.28 552.45,125 573.83,279.43 595.2,125 616.58,536.8 637.95,125 659.33,125 680.7,372.08 702.08,433.85 723.45,279.43 744.83,495.62 766.2,495.62 787.58,125 808.95,389.73 830.33,330.9 851.7,125 873.08,495.62 894.45,477.97 915.83,301.49 937.2,125 958.58,125 979.95,248.54 1001.33,654.46 1022.7,330.9 1044.08,356.64 1065.45,213.24 1086.83,202.21 1108.2,125 1129.58,433.85 1150.95,742.7 1172.33,552.64 1193.7,125 1215.08,193.63 1236.45,125 1257.83,125 1279.2,433.85 1300.58,310.31 1321.95,330.9 1343.33,279.43 1364.7,279.43 1386.08,125 1407.45,433.85 1428.83,157.74 1450.2,330.9 1471.58,433.85 1492.95,433.85 1514.33,279.43 1535.7,433.85 1557.08,125 1578.45,125 1599.83,330.9 1621.2,279.43 1642.58,279.43 1663.95,248.54 1685.33,356.64 1706.7,330.9 1728.08,279.43 1749.45,125 1770.83,433.85 1792.2,125 1813.58,248.54 1834.95,186.77 1856.33,213.24 1877.7,433.85 1899.08,125 1920.45,213.24 1941.83,213.24 1963.2,213.24 1984.58,125 2005.95,536.8 2027.33,248.54 2048.7,433.85 2070.07,433.85 2091.45,125 2112.82,433.85 2134.2,389.73 2155.57,125 2176.95,433.85 2198.32,279.43 2219.7,125 2241.07,372.08"/>
<path class="mk" fill="#800000" stroke="#800000" d="M338.7 212.63L340.36 217.74L345.74 217.74L341.39 220.9L343.05 226.02L338.7 222.86L334.35 226.02L336.01 220.9L331.66 217.74L337.04 217.74ZM360.07 220.55L361.74 225.66L367.11 225.66L362.76 228.82L364.42 233.94L360.07 230.78L355.73 233.94L357.39 228.82L353.04 225.66L358.41 225.66ZM381.45 323.5L383.11 328.61L388.49 328.61L384.14 331.77L385.8 336.89L381.45 333.73L377.1 336.89L378.76 331.77L374.41 328.61L379.79 328.61ZM402.82 382.33L404.49 387.44L409.86 387.44L405.51 390.6L407.17 395.72L402.82 392.56L398.48 395.72L400.14 390.6L395.79 387.44L401.16 387.44ZM424.2 117.6L425.86 122.71L431.24 122.71L426.89 125.87L428.55 130.99L424.2 127.83L419.85 130.99L421.51 125.87L417.16 122.71L422.54 122.71ZM445.57 426.45L447.24 431.56L452.61 431.56L448.26 434.72L449.92 439.84L445.57 436.68L441.23 439.84L442.89 434.72L438.54 431.56L443.91 431.56ZM466.95 117.6L468.61 122.71L473.99 122.71L469.64 125.87L471.3 130.99L466.95 127.83L462.6 130.99L464.26 125.87L459.91 122.71L465.29 122.71ZM488.32 272.03L489.99 277.14L495.36 277.14L491.01 280.3L492.67 285.41L488.32 282.25L483.98 285.41L485.64 280.3L481.29 277.14L486.66 277.14ZM509.7 438.8L511.36 443.92L516.74 443.92L512.39 447.08L514.05 452.19L509.7 449.03L505.35 452.19L507.01 447.08L502.66 443.92L508.04 443.92ZM531.08 580.88L532.74 585.99L538.11 585.99L533.76 589.15L535.42 594.26L531.08 591.1L526.73 594.26L528.39 589.15L524.04 585.99L529.41 585.99ZM552.45 117.6L554.11 122.71L559.49 122.71L555.14 125.87L556.8 130.99L552.45 127.83L548.1 130.99L549.76 125.87L545.41 122.71L550.79 122.71ZM573.83 272.03L575.49 277.14L580.86 277.14L576.51 280.3L578.17 285.41L573.83 282.25L569.48 285.41L571.14 280.3L566.79 277.14L572.16 277.14ZM595.2 117.6L596.86 122.71L602.24 122.71L597.89 125.87L599.55 130.99L595.2 127.83L590.85 130.99L592.51 125.87L588.16 122.71L593.54 122.71ZM616.58 529.4L618.24 534.51L623.61 534.51L619.26 537.67L620.92 542.79L616.58 539.63L612.23 542.79L613.89 537.67L609.54 534.51L614.91 534.51ZM637.95 117.6L639.61 122.71L644.99 122.71L640.64 125.87L642.3 130.99L637.95 127.83L633.6 130.99L635.26 125.87L630.91 122.71L636.29 122.71ZM659.33 117.6L660.99 122.71L666.36 122.71L662.01 125.87L663.67 130.99L659.33 127.83L654.98 130.99L656.64 125.87L652.29 122.71L657.66 122.71ZM680.7 364.68L682.36 369.79L687.74 369.79L683.39 372.95L685.05 378.07L680.7 374.91L676.35 378.07L678.01 372.95L673.66 369.79L679.04 369.79ZM702.08 426.45L703.74 431.56L709.11 431.56L704.76 434.72L706.42 439.84L702.08 436.68L697.73 439.84L699.39 434.72L695.04 431.56L700.41 431.56ZM723.45 272.03L725.11 277.14L730.49 277.14L726.14 280.3L727.8 285.41L723.45 282.25L719.1 285.41L720.76 280.3L716.41 277.14L721.79 277.14ZM744.83 488.22L746.49 493.33L751.86 493.33L747.51 496.49L749.17 501.61L744.83 498.45L740.48 501.61L742.14 496.49L737.79 493.33L743.16 493.33ZM766.2 488.22L767.86 493.33L773.24 493.33L768.89 496.49L770.55 501.61L766.2 498.45L761.85 501.61L763.51 496.49L759.16 493.33L764.54 493.33ZM787.58 117.6L789.24 122.71L794.61 122.71L790.26 125.87L791.92 130.99L787.58 127.83L783.23 130.99L784.89 125.87L780.54 122.71L785.91 122.71ZM808.95 382.33L810.61 387.44L815.99 387.44L811.64 390.6L813.3 395.72L808.95 392.56L804.6 395.72L806.26 390.6L801.91 387.44L807.29 387.44ZM830.33 323.5L831.99 328.61L837.36 328.61L833.01 331.77L834.67 336.89L830.33 333.73L825.98 336.89L827.64 331.77L823.29 328.61L828.66 328.61ZM851.7 117.6L853.36 122.71L858.74 122.71L854.39 125.87L856.05 130.99L851.7 127.83L847.35 130.99L849.01 125.87L844.66 122.71L850.04 122.71ZM873.08 488.22L874.74 493.33L880.11 493.33L875.76 496.49L877.42 501.61L873.08 498.45L868.73 501.61L870.39 496.49L866.04 493.33L871.41 493.33ZM894.45 470.57L896.11 475.68L901.49 475.68L897.14 478.84L898.8 483.96L894.45 480.8L890.1 483.96L891.76 478.84L887.41 475.68L892.79 475.68ZM915.83 294.09L917.49 299.2L922.86 299.2L918.51 302.36L920.17 307.47L915.83 304.31L911.48 307.47L913.14 302.36L908.79 299.2L914.16 299.2ZM937.2 117.6L938.86 122.71L944.24 122.71L939.89 125.87L941.55 130.99L937.2 127.83L932.85 130.99L934.51 125.87L930.16 122.71L935.54 122.71ZM958.58 117.6L960.24 122.71L965.61 122.71L961.26 125.87L962.92 130.99L958.58 127.83L954.23 130.99L955.89 125.87L951.54 122.71L956.91 122.71ZM979.95 241.14L981.61 246.25L986.99 246.25L982.64 249.41L984.3 254.53L979.95 251.37L975.6 254.53L977.26 249.41L972.91 246.25L978.29 246.25ZM1001.33 647.06L1002.99 652.17L1008.36 652.17L1004.01 655.33L1005.67 660.44L1001.33 657.28L996.98 660.44L998.64 655.33L994.29 652.17L999.66 652.17ZM1022.7 323.5L1024.36 328.61L1029.74 328.61L1025.39 331.77L1027.05 336.89L1022.7 333.73L1018.35 336.89L1020.01 331.77L1015.66 328.61L1021.04 328.61ZM1044.08 349.24L1045.74 354.35L1051.11 354.35L1046.76 357.51L1048.42 362.62L1044.08 359.46L1039.73 362.62L1041.39 357.51L1037.04 354.35L1042.41 354.35ZM1065.45 205.84L1067.11 210.96L1072.49 210.96L1068.14 214.12L1069.8 219.23L1065.45 216.07L1061.1 219.23L1062.76 214.12L1058.41 210.96L1063.79 210.96ZM1086.83 194.81L1088.49 199.93L1093.86 199.93L1089.51 203.09L1091.17 208.2L1086.83 205.04L1082.48 208.2L1084.14 203.09L1079.79 199.93L1085.16 199.93ZM1108.2 117.6L1109.86 122.71L1115.24 122.71L1110.89 125.87L1112.55 130.99L1108.2 127.83L1103.85 130.99L1105.51 125.87L1101.16 122.71L1106.54 122.71ZM1129.58 426.45L1131.24 431.56L1136.61 431.56L1132.26 434.72L1133.92 439.84L1129.58 436.68L1125.23 439.84L1126.89 434.72L1122.54 431.56L1127.91 431.56ZM1150.95 735.3L1152.61 740.41L1157.99 740.41L1153.64 743.57L1155.3 748.69L1150.95 745.53L1146.6 748.69L1148.26 743.57L1143.91 740.41L1149.29 740.41ZM1172.33 545.24L1173.99 550.35L1179.36 550.35L1175.01 553.51L1176.67 558.63L1172.33 555.47L1167.98 558.63L1169.64 553.51L1165.29 550.35L1170.66 550.35ZM1193.7 117.6L1195.36 122.71L1200.74 122.71L1196.39 125.87L1198.05 130.99L1193.7 127.83L1189.35 130.99L1191.01 125.87L1186.66 122.71L1192.04 122.71ZM1215.08 186.23L1216.74 191.35L1222.11 191.35L1217.76 194.51L1219.42 199.62L1215.08 196.46L1210.73 199.62L1212.39 194.51L1208.04 191.35L1213.41 191.35ZM1236.45 117.6L1238.11 122.71L1243.49 122.71L1239.14 125.87L1240.8 130.99L1236.45 127.83L1232.1 130.99L1233.76 125.87L1229.41 122.71L1234.79 122.71ZM1257.83 117.6L1259.49 122.71L1264.86 122.71L1260.51 125.87L1262.17 130.99L1257.83 127.83L1253.48 130.99L1255.14 125.87L1250.79 122.71L1256.16 122.71ZM1279.2 426.45L1280.86 431.56L1286.24 431.56L1281.89 434.72L1283.55 439.84L1279.2 436.68L1274.85 439.84L1276.51 434.72L1272.16 431.56L1277.54 431.56ZM1300.58 302.91L1302.24 308.02L1307.61 308.02L1303.26 311.18L1304.92 316.3L1300.58 313.14L1296.23 316.3L1297.89 311.18L1293.54 308.02L1298.91 308.02ZM1321.95 323.5L1323.61 328.61L1328.99 328.61L1324.64 331.77L1326.3 336.89L1321.95 333.73L1317.6 336.89L1319.26 331.77L1314.91 328.61L1320.29 328.61ZM1343.33 272.03L1344.99 277.14L1350.36 277.14L1346.01 280.3L1347.67 285.41L1343.33 282.25L1338.98 285.41L1340.64 280.3L1336.29 277.14L1341.66 277.14ZM1364.7 272.03L1366.36 277.14L1371.74 277.14L1367.39 280.3L1369.05 285.41L1364.7 282.25L1360.35 285.41L1362.01 280.3L1357.66 277.14L1363.04 277.14ZM1386.08 117.6L1387.74 122.71L1393.11 122.71L1388.76 125.87L1390.42 130.99L1386.08 127.83L1381.73 130.99L1383.39 125.87L1379.04 122.71L1384.41 122.71ZM1407.45 426.45L1409.11 431.56L1414.49 431.56L1410.14 434.72L1411.8 439.84L1407.45 436.68L1403.1 439.84L1404.76 434.72L1400.41 431.56L1405.79 431.56ZM1428.83 150.34L1430.49 155.45L1435.86 155.45L1431.51 158.61L1433.17 163.72L1428.83 160.56L1424.48 163.72L1426.14 158.61L1421.79 155.45L1427.16 155.45ZM1450.2 323.5L1451.86 328.61L1457.24 328.61L1452.89 331.77L1454.55 336.89L1450.2 333.73L1445.85 336.89L1447.51 331.77L1443.16 328.61L1448.54 328.61ZM1471.58 426.45L1473.24 431.56L1478.61 431.56L1474.26 434.72L1475.92 439.84L1471.58 436.68L1467.23 439.84L1468.89 434.72L1464.54 431.56L1469.91 431.56ZM1492.95 426.45L1494.61 431.56L1499.99 431.56L1495.64 434.72L1497.3 439.84L1492.95 436.68L1488.6 439.84L1490.26 434.72L1485.91 431.56L1491.29 431.56ZM1514.33 272.03L1515.99 277.14L1521.36 277.14L1517.01 280.3L1518.67 285.41L1514.33 282.25L1509.98 285.41L1511.64 280.3L1507.29 277.14L1512.66 277.14ZM1535.7 426.45L1537.36 431.56L1542.74 431.56L1538.39 434.72L1540.05 439.84L1535.7 436.68L1531.35 439.84L1533.01 434.72L1528.66 431.56L1534.04 431.56ZM1557.08 117.6L1558.74 122.71L1564.11 122.71L1559.76 125.87L1561.42 130.99L1557.08 127.83L1552.73 130.99L1554.39 125.87L1550.04 122.71L1555.41 122.71ZM1578.45 117.6L1580.11 122.71L1585.49 122.71L1581.14 125.87L1582.8 130.99L1578.45 127.83L1574.1 130.99L1575.76 125.87L1571.41 122.71L1576.79 122.71ZM1599.83 323.5L1601.49 328.61L1606.86 328.61L1602.51 331.77L1604.17 336.89L1599.83 333.73L1595.48 336.89L1597.14 331.77L1592.79 328.61L1598.16 328.61ZM1621.2 272.03L1622.86 277.14L1628.24 277.14L1623.89 280.3L1625.55 285.41L1621.2 282.25L1616.85 285.41L1618.51 280.3L1614.16 277.14L1619.54 277.14ZM1642.58 272.03L1644.24 277.14L1649.61 277.14L1645.26 280.3L1646.92 285.41L1642.58 282.25L1638.23 285.41L1639.89 280.3L1635.54 277.14L1640.91 277.14ZM1663.95 241.14L1665.61 246.25L1670.99 246.25L1666.64 249.41L1668.3 254.53L1663.95 251.37L1659.6 254.53L1661.26 249.41L1656.91 246.25L1662.29 246.25ZM1685.33 349.24L1686.99 354.35L1692.36 354.35L1688.01 357.51L1689.67 362.62L1685.33 359.46L1680.98 362.62L1682.64 357.51L1678.29 354.35L1683.66 354.35ZM1706.7 323.5L1708.36 328.61L1713.74 328.61L1709.39 331.77L1711.05 336.89L1706.7 333.73L1702.35 336.89L1704.01 331.77L1699.66 328.61L1705.04 328.61ZM1728.08 272.03L1729.74 277.14L1735.11 277.14L1730.76 280.3L1732.42 285.41L1728.08 282.25L1723.73 285.41L1725.39 280.3L1721.04 277.14L1726.41 277.14ZM1749.45 117.6L1751.11 122.71L1756.49 122.71L1752.14 125.87L1753.8 130.99L1749.45 127.83L1745.1 130.99L1746.76 125.87L1742.41 122.71L1747.79 122.71ZM1770.83 426.45L1772.49 431.56L1777.86 431.56L1773.51 434.72L1775.17 439.84L1770.83 436.68L1766.48 439.84L1768.14 434.72L1763.79 431.56L1769.16 431.56ZM1792.2 117.6L1793.86 122.71L1799.24 122.71L1794.89 125.87L1796.55 130.99L1792.2 127.83L1787.85 130.99L1789.51 125.87L1785.16 122.71L1790.54 122.71ZM1813.58 241.14L1815.24 246.25L1820.61 246.25L1816.26 249.41L1817.92 254.53L1813.58 251.37L1809.23 254.53L1810.89 249.41L1806.54 246.25L1811.91 246.25ZM1834.95 179.37L1836.61 184.48L1841.99 184.48L1837.64 187.64L1839.3 192.76L1834.95 189.6L1830.6 192.76L1832.26 187.64L1827.91 184.48L1833.29 184.48ZM1856.33 205.84L1857.99 210.96L1863.36 210.96L1859.01 214.12L1860.67 219.23L1856.33 216.07L1851.98 219.23L1853.64 214.12L1849.29 210.96L1854.66 210.96ZM1877.7 426.45L1879.36 431.56L1884.74 431.56L1880.39 434.72L1882.05 439.84L1877.7 436.68L1873.35 439.84L1875.01 434.72L1870.66 431.56L1876.04 431.56ZM1899.08 117.6L1900.74 122.71L1906.11 122.71L1901.76 125.87L1903.42 130.99L1899.08 127.83L1894.73 130.99L1896.39 125.87L1892.04 122.71L1897.41 122.71ZM1920.45 205.84L1922.11 210.96L1927.49 210.96L1923.14 214.12L1924.8 219.23L1920.45 216.07L1916.1 219.23L1917.76 214.12L1913.41 210.96L1918.79 210.96ZM1941.83 205.84L1943.49 210.96L1948.86 210.96L1944.51 214.12L1946.17 219.23L1941.83 216.07L1937.48 219.23L1939.14 214.12L1934.79 210.96L1940.16 210.96ZM1963.2 205.84L1964.86 210.96L1970.24 210.96L1965.89 214.12L1967.55 219.23L1963.2 216.07L1958.85 219.23L1960.51 214.12L1956.16 210.96L1961.54 210.96ZM1984.58 117.6L1986.24 122.71L1991.61 122.71L1987.26 125.87L1988.92 130.99L1984.58 127.83L1980.23 130.99L1981.89 125.87L1977.54 122.71L1982.91 122.71ZM2005.95 529.4L2007.61 534.51L2012.99 534.51L2008.64 537.67L2010.3 542.79L2005.95 539.63L2001.6 542.79L2003.26 537.67L1998.91 534.51L2004.29 534.51ZM2027.33 241.14L2028.99 246.25L2034.36 246.25L2030.01 249.41L2031.67 254.53L2027.33 251.37L2022.98 254.53L2024.64 249.41L2020.29 246.25L2025.66 246.25ZM2048.7 426.45L2050.36 431.56L2055.74 431.56L2051.39 434.72L2053.05 439.84L2048.7 436.68L2044.35 439.84L2046.01 434.72L2041.66 431.56L2047.04 431.56ZM2070.07 426.45L2071.74 431.56L2077.11 431.56L2072.76 434.72L2074.42 439.84L2070.07 436.68L2065.73 439.84L2067.39 434.72L2063.04 431.56L2068.41 431.56ZM2091.45 117.6L2093.11 122.71L2098.49 122.71L2094.14 125.87L2095.8 130.99L2091.45 127.83L2087.1 130.99L2088.76 125.87L2084.41 122.71L2089.79 122.71ZM2112.82 426.45L2114.49 431.56L2119.86 431.56L2115.51 434.72L2117.17 439.84L2112.82 436.68L2108.48 439.84L2110.14 434.72L2105.79 431.56L2111.16 431.56ZM2134.2 382.33L2135.86 387.44L2141.24 387.44L2136.89 390.6L2138.55 395.72L2134.2 392.56L2129.85 395.72L2131.51 390.6L2127.16 387.44L2132.54 387.44ZM2155.57 117.6L2157.24 122.71L2162.61 122.71L2158.26 125.87L2159.92 130.99L2155.57 127.83L2151.23 130.99L2152.89 125.87L2148.54 122.71L2153.91 122.71ZM2176.95 426.45L2178.61 431.56L2183.99 431.56L2179.64 434.72L2181.3 439.84L2176.95 436.68L2172.6 439.84L2174.26 434.72L2169.91 431.56L2175.29 431.56ZM2198.32 272.03L2199.99 277.14L2205.36 277.14L2201.01 280.3L2202.67 285.41L2198.32 282.25L2193.98 285.41L2195.64 280.3L2191.29 277.14L2196.66 277.14ZM2219.7 117.6L2221.36 122.71L2226.74 122.71L2222.39 125.87L2224.05 130.99L2219.7 127.83L2215.35 130.99L2217.01 125.87L2212.66 122.71L2218.04 122.71ZM2241.07 364.68L2242.74 369.79L2248.11 369.79L2243.76 372.95L2245.42 378.07L2241.07 374.91L2236.73 378.07L2238.39 372.95L2234.04 369.79L2239.41 369.79Z"/>
<polyline class="ln" stroke="#800080" points="338.7,330.9 360.07,238.46 381.45,293.46 402.82,293.46 424.2,125 445.57,536.8 466.95,213.24 488.32,279.43 509.7,362.58 531.08,654.46 552.45,181.15 573.83,279.43 595.2,495.62 616.58,536.8 637.95,330.9 659.33,433.85 680.7,330.9 702.08,372.08 723.45,279.43 744.83,468.17 766.2,433.85 787.58,125 808.95,293.46 830.33,352.57 851.7,125 873.08,389.73 894.45,457.61 915.83,379.35 937.2,125 958.58,125 979.95,193.63 1001.33,677.68 1022.7,389.73 1044.08,267.55 1065.45,306.68 1086.83,262.27 1108.2,330.9 1129.58,372.08 1150.95,742.7 1172.33,507.39 1193.7,125 1215.08,161.34 1236.45,330.9 1257.83,213.24 1279.2,536.8 1300.58,310.31 1321.95,248.54 1343.33,279.43 1364.7,279.43 1386.08,125 1407.45,399.53 1428.83,200.43 1450.2,248.54 1471.58,372.08 1492.95,536.8 1514.33,279.43 1535.7,433.85 1557.08,125 1578.45,193.63 1599.83,468.17 1621.2,279.43 1642.58,213.24 1663.95,193.63 1685.33,301.49 1706.7,389.73 1728.08,279.43 1749.45,125 1770.83,536.8 1792.2,330.9 1813.58,293.46 1834.95,186.77 1856.33,248.54 1877.7,433.85 1899.08,330.9 1920.45,172.52 1941.83,172.52 1963.2,172.52 1984.58,125 2005.95,566.21 2027.33,193.63 2048.7,433.85 2070.07,372.08 2091.45,495.62 2112.82,330.9 2134.2,362.58 2155.57,495.62 2176.95,433.85 2198.32,213.24 2219.7,125 2241.07,330.9"/>
<path class="mk" fill="#800080" stroke="#800080" d="M338.7 323.5L340.36 328.61L345.74 328.61L341.39 331.77L343.05 336.89L338.7 333.73L334.35 336.89L336.01 331.77L331.66 328.61L337.04 328.61ZM360.07 231.06L361.74 236.17L367.11 236.17L362.76 239.33L364.42 244.44L360.07 241.28L355.73 244.44L357.39 239.33L353.04 236.17L358.41 236.17ZM381.45 286.06L383.11 291.18L388.49 291.18L384.14 294.34L385.8 299.45L381.45 296.29L377.1 299.45L378.76 294.34L374.41 291.18L379.79 291.18ZM402.82 286.06L404.49 291.18L409.86 291.18L405.51 294.34L407.17 299.45L402.82 296.29L398.48 299.45L400.14 294.34L395.79 291.18L401.16 291.18ZM424.2 117.6L425.86 122.71L431.24 122.71L426.89 125.87L428.55 130.99L424.2 127.83L419.85 130.99L421.51 125.87L417.16 122.71L422.54 122.71ZM445.57 529.4L447.24 534.51L452.61 534.51L448.26 537.67L449.92 542.79L445.57 539.63L441.23 542.79L442.89 537.67L438.54 534.51L443.91 534.51ZM466.95 205.84L468.61 210.96L473.99 210.96L469.64 214.12L471.3 219.23L466.95 216.07L462.6 219.23L464.26 214.12L459.91 210.96L465.29 210.96ZM488.32 272.03L489.99 277.14L495.36 277.14L491.01 280.3L492.67 285.41L488.32 282.25L483.98 285.41L485.64 280.3L481.29 277.14L486.66 277.14ZM509.7 355.18L511.36 360.29L516.74 360.29L512.39 363.45L514.05 368.56L509.7 365.4L505.35 368.56L507.01 363.45L502.66 360.29L508.04 360.29ZM531.08 647.06L532.74 652.17L538.11 652.17L533.76 655.33L535.42 660.44L531.08 657.28L526.73 660.44L528.39 655.33L524.04 652.17L529.41 652.17ZM552.45 173.75L554.11 178.87L559.49 178.87L555.14 182.03L556.8 187.14L552.45 183.98L548.1 187.14L549.76 182.03L545.41 178.87L550.79 178.87ZM573.83 272.03L575.49 277.14L580.86 277.14L576.51 280.3L578.17 285.41L573.83 282.25L569.48 285.41L571.14 280.3L566.79 277.14L572.16 277.14ZM595.2 488.22L596.86 493.33L602.24 493.33L597.89 496.49L599.55 501.61L595.2 498.45L590.85 501.61L592.51 496.49L588.16 493.33L593.54 493.33ZM616.58 529.4L618.24 534.51L623.61 534.51L619.26 537.67L620.92 542.79L616.58 539.63L612.23 542.79L613.89 537.67L609.54 534.51L614.91 534.51ZM637.95 323.5L639.61 328.61L644.99 328.61L640.64 331.77L642.3 336.89L637.95 333.73L633.6 336.89L635.26 331.77L630.91 328.61L636.29 328.61ZM659.33 426.45L660.99 431.56L666.36 431.56L662.01 434.72L663.67 439.84L659.33 436.68L654.98 439.84L656.64 434.72L652.29 431.56L657.66 431.56ZM680.7 323.5L682.36 328.61L687.74 328.61L683.39 331.77L685.05 336.89L680.7 333.73L676.35 336.89L678.01 331.77L673.66 328.61L679.04 328.61ZM702.08 364.68L703.74 369.79L709.11 369.79L704.76 372.95L706.42 378.07L702.08 374.91L697.73 378.07L699.39 372.95L695.04 369.79L700.41 369.79ZM723.45 272.03L725.11 277.14L730.49 277.14L726.14 280.3L727.8 285.41L723.45 282.25L719.1 285.41L720.76 280.3L716.41 277.14L721.79 277.14ZM744.83 460.77L746.49 465.88L751.86 465.88L747.51 469.04L749.17 474.15L744.83 470.99L740.48 474.15L742.14 469.04L737.79 465.88L743.16 465.88ZM766.2 426.45L767.86 431.56L773.24 431.56L768.89 434.72L770.55 439.84L766.2 436.68L761.85 439.84L763.51 434.72L759.16 431.56L764.54 431.56ZM787.58 117.6L789.24 122.71L794.61 122.71L790.26 125.87L791.92 130.99L787.58 127.83L783.23 130.99L784.89 125.87L780.54 122.71L785.91 122.71ZM808.95 286.06L810.61 291.18L815.99 291.18L811.64 294.34L813.3 299.45L808.95 296.29L804.6 299.45L806.26 294.34L801.91 291.18L807.29 291.18ZM830.33 345.17L831.99 350.29L837.36 350.29L833.01 353.45L834.67 358.56L830.33 355.4L825.98 358.56L827.64 353.45L823.29 350.29L828.66 350.29ZM851.7 117.6L853.36 122.71L858.74 122.71L854.39 125.87L856.05 130.99L851.7 127.83L847.35 130.99L849.01 125.87L844.66 122.71L850.04 122.71ZM873.08 382.33L874.74 387.44L880.11 387.44L875.76 390.6L877.42 395.72L873.08 392.56L868.73 395.72L870.39 390.6L866.04 387.44L871.41 387.44ZM894.45 450.21L896.11 455.32L901.49 455.32L897.14 458.48L898.8 463.59L894.45 460.43L890.1 463.59L891.76 458.48L887.41 455.32L892.79 455.32ZM915.83 371.95L917.49 377.06L922.86 377.06L918.51 380.22L920.17 385.33L915.83 382.17L911.48 385.33L913.14 380.22L908.79 377.06L914.16 377.06ZM937.2 117.6L938.86 122.71L944.24 122.71L939.89 125.87L941.55 130.99L937.2 127.83L932.85 130.99L934.51 125.87L930.16 122.71L935.54 122.71ZM958.58 117.6L960.24 122.71L965.61 122.71L961.26 125.87L962.92 130.99L958.58 127.83L954.23 130.99L955.89 125.87L951.54 122.71L956.91 122.71ZM979.95 186.23L981.61 191.35L986.99 191.35L982.64 194.51L984.3 199.62L979.95 196.46L975.6 199.62L977.26 194.51L972.91 191.35L978.29 191.35ZM1001.33 670.28L1002.99 675.39L1008.36 675.39L1004.01 678.55L1005.67 683.67L1001.33 680.51L996.98 683.67L998.64 678.55L994.29 675.39L999.66 675.39ZM1022.7 382.33L1024.36 387.44L1029.74 387.44L1025.39 390.6L1027.05 395.72L1022.7 392.56L1018.35 395.72L1020.01 390.6L1015.66 387.44L1021.04 387.44ZM1044.08 260.15L1045.74 265.26L1051.11 265.26L1046.76 268.42L1048.42 273.53L1044.08 270.37L1039.73 273.53L1041.39 268.42L1037.04 265.26L1042.41 265.26ZM1065.45 299.28L1067.11 304.39L1072.49 304.39L1068.14 307.55L1069.8 312.66L1065.45 309.5L1061.1 312.66L1062.76 307.55L1058.41 304.39L1063.79 304.39ZM1086.83 254.87L1088.49 259.98L1093.86 259.98L1089.51 263.14L1091.17 268.25L1086.83 265.09L1082.48 268.25L1084.14 263.14L1079.79 259.98L1085.16 259.98ZM1108.2 323.5L1109.86 328.61L1115.24 328.61L1110.89 331.77L1112.55 336.89L1108.2 333.73L1103.85 336.89L1105.51 331.77L1101.16 328.61L1106.54 328.61ZM1129.58 364.68L1131.24 369.79L1136.61 369.79L1132.26 372.95L1133.92 378.07L1129.58 374.91L1125.23 378.07L1126.89 372.95L1122.54 369.79L1127.91 369.79ZM1150.95 735.3L1152.61 740.41L1157.99 740.41L1153.64 743.57L1155.3 748.69L1150.95 745.53L1146.6 748.69L1148.26 743.57L1143.91 740.41L1149.29 740.41ZM1172.33 499.99L1173.99 505.1L1179.36 505.1L1175.01 508.26L1176.67 513.37L1172.33 510.21L1167.98 513.37L1169.64 508.26L1165.29 505.1L1170.66 505.1ZM1193.7 117.6L1195.36 122.71L1200.74 122.71L1196.39 125.87L1198.05 130.99L1193.7 127.83L1189.35 130.99L1191.01 125.87L1186.66 122.71L1192.04 122.71ZM1215.08 153.94L1216.74 159.05L1222.11 159.05L1217.76 162.21L1219.42 167.32L1215.08 164.16L1210.73 167.32L1212.39 162.21L1208.04 159.05L1213.41 159.05ZM1236.45 323.5L1238.11 328.61L1243.49 328.61L1239.14 331.77L1240.8 336.89L1236.45 333.73L1232.1 336.89L1233.76 331.77L1229.41 328.61L1234.79 328.61ZM1257.83 205.84L1259.49 210.96L1264.86 210.96L1260.51 214.12L1262.17 219.23L1257.83 216.07L1253.48 219.23L1255.14 214.12L1250.79 210.96L1256.16 210.96ZM1279.2 529.4L1280.86 534.51L1286.24 534.51L1281.89 537.67L1283.55 542.79L1279.2 539.63L1274.85 542.79L1276.51 537.67L1272.16 534.51L1277.54 534.51ZM1300.58 302.91L1302.24 308.02L1307.61 308.02L1303.26 311.18L1304.92 316.3L1300.58 313.14L1296.23 316.3L1297.89 311.18L1293.54 308.02L1298.91 308.02ZM1321.95 241.14L1323.61 246.25L1328.99 246.25L1324.64 249.41L1326.3 254.53L1321.95 251.37L1317.6 254.53L1319.26 249.41L1314.91 246.25L1320.29 246.25ZM1343.33 272.03L1344.99 277.14L1350.36 277.14L1346.01 280.3L1347.67 285.41L1343.33 282.25L1338.98 285.41L1340.64 280.3L1336.29 277.14L1341.66 277.14ZM1364.7 272.03L1366.36 277.14L1371.74 277.14L1367.39 280.3L1369.05 285.41L1364.7 282.25L1360.35 285.41L1362.01 280.3L1357.66 277.14L1363.04 277.14ZM1386.08 117.6L1387.74 122.71L1393.11 122.71L1388.76 125.87L1390.42 130.99L1386.08 127.83L1381.73 130.99L1383.39 125.87L1379.04 122.71L1384.41 122.71ZM1407.45 392.13L1409.11 397.25L1414.49 397.25L1410.14 400.41L1411.8 405.52L1407.45 402.36L1403.1 405.52L1404.76 400.41L1400.41 397.25L1405.79 397.25ZM1428.83 193.03L1430.49 198.14L1435.86 198.14L1431.51 201.3L1433.17 206.41L1428.83 203.25L1424.48 206.41L1426.14 201.3L1421.79 198.14L1427.16 198.14ZM1450.2 241.14L1451.86 246.25L1457.24 246.25L1452.89 249.41L1454.55 254.53L1450.2 251.37L1445.85 254.53L1447.51 249.41L1443.16 246.25L1448.54 246.25ZM1471.58 364.68L1473.24 369.79L1478.61 369.79L1474.26 372.95L1475.92 378.07L1471.58 374.91L1467.23 378.07L1468.89 372.95L1464.54 369.79L1469.91 369.79ZM1492.95 529.4L1494.61 534.51L1499.99 534.51L1495.64 537.67L1497.3 542.79L1492.95 539.63L1488.6 542.79L1490.26 537.67L1485.91 534.51L1491.29 534.51ZM1514.33 272.03L1515.99 277.14L1521.36 277.14L1517.01 280.3L1518.67 285.41L1514.33 282.25L1509.98 285.41L1511.64 280.3L1507.29 277.14L1512.66 277.14ZM1535.7 426.45L1537.36 431.56L1542.74 431.56L1538.39 434.72L1540.05 439.84L1535.7 436.68L1531.35 439.84L1533.01 434.72L1528.66 431.56L1534.04 431.56ZM1557.08 117.6L1558.74 122.71L1564.11 122.71L1559.76 125.87L1561.42 130.99L1557.08 127.83L1552.73 130.99L1554.39 125.87L1550.04 122.71L1555.41 122.71ZM1578.45 186.23L1580.11 191.35L1585.49 191.35L1581.14 194.51L1582.8 199.62L1578.45 196.46L1574.1 199.62L1575.76 194.51L1571.41 191.35L1576.79 191.35ZM1599.83 460.77L1601.49 465.88L1606.86 465.88L1602.51 469.04L1604.17 474.15L1599.83 470.99L1595.48 474.15L1597.14 469.04L1592.79 465.88L1598.16 465.88ZM1621.2 272.03L1622.86 277.14L1628.24 277.14L1623.89 280.3L1625.55 285.41L1621.2 282.25L1616.85 285.41L1618.51 280.3L1614.16 277.14L1619.54 277.14ZM1642.58 205.84L1644.24 210.96L1649.61 210.96L1645.26 214.12L1646.92 219.23L1642.58 216.07L1638.23 219.23L1639.89 214.12L1635.54 210.96L1640.91 210.96ZM1663.95 186.23L1665.61 191.35L1670.99 191.35L1666.64 194.51L1668.3 199.62L1663.95 196.46L1659.6 199.62L1661.26 194.51L1656.91 191.35L1662.29 191.35ZM1685.33 294.09L1686.99 299.2L1692.36 299.2L1688.01 302.36L1689.67 307.47L1685.33 304.31L1680.98 307.47L1682.64 302.36L1678.29 299.2L1683.66 299.2ZM1706.7 382.33L1708.36 387.44L1713.74 387.44L1709.39 390.6L1711.05 395.72L1706.7 392.56L1702.35 395.72L1704.01 390.6L1699.66 387.44L1705.04 387.44ZM1728.08 272.03L1729.74 277.14L1735.11 277.14L1730.76 280.3L1732.42 285.41L1728.08 282.25L1723.73 285.41L1725.39 280.3L1721.04 277.14L1726.41 277.14ZM1749.45 117.6L1751.11 122.71L1756.49 122.71L1752.14 125.87L1753.8 130.99L1749.45 127.83L1745.1 130.99L1746.76 125.87L1742.41 122.71L1747.79 122.71ZM1770.83 529.4L1772.49 534.51L1777.86 534.51L1773.51 537.67L1775.17 542.79L1770.83 539.63L1766.48 542.79L1768.14 537.67L1763.79 534.51L1769.16 534.51ZM1792.2 323.5L1793.86 328.61L1799.24 328.61L1794.89 331.77L1796.55 336.89L1792.2 333.73L1787.85 336.89L1789.51 331.77L1785.16 328.61L1790.54 328.61ZM1813.58 286.06L1815.24 291.18L1820.61 291.18L1816.26 294.34L1817.92 299.45L1813.58 296.29L1809.23 299.45L1810.89 294.34L1806.54 291.18L1811.91 291.18ZM1834.95 179.37L1836.61 184.48L1841.99 184.48L1837.64 187.64L1839.3 192.76L1834.95 189.6L1830.6 192.76L1832.26 187.64L1827.91 184.48L1833.29 184.48ZM1856.33 241.14L1857.99 246.25L1863.36 246.25L1859.01 249.41L1860.67 254.53L1856.33 251.37L1851.98 254.53L1853.64 249.41L1849.29 246.25L1854.66 246.25ZM1877.7 426.45L1879.36 431.56L1884.74 431.56L1880.39 434.72L1882.05 439.84L1877.7 436.68L1873.35 439.84L1875.01 434.72L1870.66 431.56L1876.04 431.56ZM1899.08 323.5L1900.74 328.61L1906.11 328.61L1901.76 331.77L1903.42 336.89L1899.08 333.73L1894.73 336.89L1896.39 331.77L1892.04 328.61L1897.41 328.61ZM1920.45 165.12L1922.11 170.23L1927.49 170.23L1923.14 173.39L1924.8 178.5L1920.45 175.34L1916.1 178.5L1917.76 173.39L1913.41 170.23L1918.79 170.23ZM1941.83 165.12L1943.49 170.23L1948.86 170.23L1944.51 173.39L1946.17 178.5L1941.83 175.34L1937.48 178.5L1939.14 173.39L1934.79 170.23L1940.16 170.23ZM1963.2 165.12L1964.86 170.23L1970.24 170.23L1965.89 173.39L1967.55 178.5L1963.2 175.34L1958.85 178.5L1960.51 173.39L1956.16 170.23L1961.54 170.23ZM1984.58 117.6L1986.24 122.71L1991.61 122.71L1987.26 125.87L1988.92 130.99L1984.58 127.83L1980.23 130.99L1981.89 125.87L1977.54 122.71L1982.91 122.71ZM2005.95 558.81L2007.61 563.93L2012.99 563.93L2008.64 567.09L2010.3 572.2L2005.95 569.04L2001.6 572.2L2003.26 567.09L1998.91 563.93L2004.29 563.93ZM2027.33 186.23L2028.99 191.35L2034.36 191.35L2030.01 194.51L2031.67 199.62L2027.33 196.46L2022.98 199.62L2024.64 194.51L2020.29 191.35L2025.66 191.35ZM2048.7 426.45L2050.36 431.56L2055.74 431.56L2051.39 434.72L2053.05 439.84L2048.7 436.68L2044.35 439.84L2046.01 434.72L2041.66 431.56L2047.04 431.56ZM2070.07 364.68L2071.74 369.79L2077.11 369.79L2072.76 372.95L2074.42 378.07L2070.07 374.91L2065.73 378.07L2067.39 372.95L2063.04 369.79L2068.41 369.79ZM2091.45 488.22L2093.11 493.33L2098.49 493.33L2094.14 496.49L2095.8 501.61L2091.45 498.45L2087.1 501.61L2088.76 496.49L2084.41 493.33L2089.79 493.33ZM2112.82 323.5L2114.49 328.61L2119.86 328.61L2115.51 331.77L2117.17 336.89L2112.82 333.73L2108.48 336.89L2110.14 331.77L2105.79 328.61L2111.16 328.61ZM2134.2 355.18L2135.86 360.29L2141.24 360.29L2136.89 363.45L2138.55 368.56L2134.2 365.4L2129.85 368.56L2131.51 363.45L2127.16 360.29L2132.54 360.29ZM2155.57 488.22L2157.24 493.33L2162.61 493.33L2158.26 496.49L2159.92 501.61L2155.57 498.45L2151.23 501.61L2152.89 496.49L2148.54 493.33L2153.91 493.33ZM2176.95 426.45L2178.61 431.56L2183.99 431.56L2179.64 434.72L2181.3 439.84L2176.95 436.68L2172.6 439.84L2174.26 434.72L2169.91 431.56L2175.29 431.56ZM2198.32 205.84L2199.99 210.96L2205.36 210.96L2201.01 214.12L2202.67 219.23L2198.32 216.07L2193.98 219.23L2195.64 214.12L2191.29 210.96L2196.66 210.96ZM2219.7 117.6L2221.36 122.71L2226.74 122.71L2222.39 125.87L2224.05 130.99L2219.7 127.83L2215.35 130.99L2217.01 125.87L2212.66 122.71L2218.04 122.71ZM2241.07 323.5L2242.74 328.61L2248.11 328.61L2243.76 331.77L2245.42 336.89L2241.07 333.73L2236.73 336.89L2238.39 331.77L2234.04 328.61L2239.41 328.61Z"/>
</g>
<path class="tk" d="M338.7 773.8v8.5M766.2 773.8v8.5M1193.7 773.8v8.5M1621.2 773.8v8.5M2048.7 773.8v8.5M243.8 742.7h-8.5M243.8 619.16h-8.5M243.8 495.62h-8.5M243.8 372.08h-8.5M243.8 248.54h-8.5M243.8 125h-8.5"/>
<rect class="sp" x="243.8" y="94.3" width="2092.4" height="679.5"/>
<text class="t" x="338.7" y="829.2" text-anchor="middle">0</text>
<text class="t" x="766.2" y="829.2" text-anchor="middle">20</text>
<text class="t" x="1193.7" y="829.2" text-anchor="middle">40</text>
<text class="t" x="1621.2" y="829.2" text-anchor="middle">60</text>
<text class="t" x="2048.7" y="829.2" text-anchor="middle">80</text>
<text class="t" x="226.2" y="762" text-anchor="end">0</text>
<text class="t" x="226.2" y="638.46" text-anchor="end">20</text>
<text class="t" x="226.2" y="514.92" text-anchor="end">40</text>
<text class="t" x="226.2" y="391.38" text-anchor="end">60</text>
<text class="t" x="226.2" y="267.84" text-anchor="end">80</text>
<text class="t" x="226.2" y="144.3" text-anchor="end">100</text>
<text class="t" x="1290.8" y="887.5" text-anchor="middle">Person ID</text>
<text class="t" transform="translate(109.9 432.25) rotate(-90)" text-anchor="middle">Percentage (%)</text>
<rect class="lg" x="1873.5" y="440.3" width="437.7" height="308.5" rx="8" ry="8"/>
<path class="ln" stroke="#06106e" stroke-linecap="square" d="M1893.5 480.5H1993.5"/>
<path class="mk" fill="#06106e" stroke="#06106e" d="M1943.5 473.1L1945.16 478.21L1950.54 478.21L1946.19 481.37L1947.85 486.49L1943.5 483.33L1939.15 486.49L1940.81 481.37L1936.46 478.21L1941.84 478.21Z"/>
<text class="t" x="2033.5" y="497.8">Specificity</text>
<path class="ln" stroke="#008000" stroke-linecap="square" d="M1893.5 554.1H1993.5"/>
<path class="mk" fill="#008000" stroke="#008000" d="M1943.5 546.7L1945.16 551.81L1950.54 551.81L1946.19 554.97L1947.85 560.09L1943.5 556.93L1939.15 560.09L1940.81 554.97L1936.46 551.81L1941.84 551.81Z"/>
<text class="t" x="2033.5" y="572.6">Recall</text>
<path class="ln" stroke="#800000" stroke-linecap="square" d="M1893.5 627.5H1993.5"/>
<path class="mk" fill="#800000" stroke="#800000" d="M1943.5 620.1L1945.16 625.21L1950.54 625.21L1946.19 628.37L1947.85 633.49L1943.5 630.33L1939.15 633.49L1940.81 628.37L1936.46 625.21L1941.84 625.21Z"/>
<text class="t" x="2033.5" y="645">Precision</text>
<path class="ln" stroke="#800080" stroke-linecap="square" d="M1893.5 701.1H1993.5"/>
<path class="mk" fill="#800080" stroke="#800080" d="M1943.5 693.7L1945.16 698.81L1950.54 698.81L1946.19 701.97L1947.85 707.09L1943.5 703.93L1939.15 707.09L1940.81 701.97L1936.46 698.81L1941.84 698.81Z"/>
<text class="t" x="2033.5" y="717.7">F1 score</text>
</g>
<g class="chart">
<text class="t" x="1295.4" y="1130.7" text-anchor="middle" font-size="50">Classification Report of ResNet-152 for MIT-BIH database</text>
<clipPath id="c1"><rect x="243.8" y="1145.85" width="2092.4" height="679.5"/></clipPath>
<g clip-path="url(#c1)">
<polyline class="ln" stroke="#06106e" points="338.7,1176.86 379.18,1177.32 419.65,1177.32 460.13,1176.55 500.61,1180.42 541.09,1178.1 581.56,1179.18 622.04,1177.32 662.52,1180.11 702.99,1177.01 743.47,1176.86 783.95,1177.01 824.42,1176.55 864.9,1176.55 905.38,1177.01 945.86,1178.1 986.33,1176.55 1026.81,1177.01 1067.29,1180.11 1107.76,1178.1 1148.24,1176.55 1188.72,1177.32 1229.19,1178.1 1269.67,1184.76 1310.15,1181.66 1350.62,1180.11 1391.1,1181.2 1431.58,1176.55 1472.06,1187.39 1512.53,1179.65 1553.01,1177.32 1593.49,1181.2 1633.96,1177.01 1674.44,1178.1 1714.92,1178.87 1755.39,1178.1 1795.87,1178.1 1836.35,1180.42 1876.83,1177.01 1917.3,1180.11 1957.78,1178.1 1998.26,1180.11 2038.73,1180.11 2079.21,1186.31 2119.69,1178.87 2160.16,1177.32 2200.64,1178.87 2241.12,1178.1"/>
<path class="mk" fill="#06106e" stroke="#06106e" d="M338.7 1169.46L340.36 1174.57L345.74 1174.57L341.39 1177.73L343.05 1182.85L338.7 1179.69L334.35 1182.85L336.01 1177.73L331.66 1174.57L337.04 1174.57ZM379.18 1169.92L380.84 1175.04L386.21 1175.04L381.87 1178.2L383.53 1183.31L379.18 1180.15L374.83 1183.31L376.49 1178.2L372.14 1175.04L377.52 1175.04ZM419.65 1169.92L421.32 1175.04L426.69 1175.04L422.34 1178.2L424 1183.31L419.65 1180.15L415.3 1183.31L416.97 1178.2L412.62 1175.04L417.99 1175.04ZM460.13 1169.15L461.79 1174.26L467.17 1174.26L462.82 1177.42L464.48 1182.54L460.13 1179.38L455.78 1182.54L457.44 1177.42L453.09 1174.26L458.47 1174.26ZM500.61 1173.02L502.27 1178.14L507.65 1178.14L503.3 1181.3L504.96 1186.41L500.61 1183.25L496.26 1186.41L497.92 1181.3L493.57 1178.14L498.95 1178.14ZM541.09 1170.7L542.75 1175.81L548.12 1175.81L543.77 1178.97L545.43 1184.09L541.09 1180.93L536.74 1184.09L538.4 1178.97L534.05 1175.81L539.42 1175.81ZM581.56 1171.78L583.22 1176.9L588.6 1176.9L584.25 1180.06L585.91 1185.17L581.56 1182.01L577.21 1185.17L578.87 1180.06L574.52 1176.9L579.9 1176.9ZM622.04 1169.92L623.7 1175.04L629.08 1175.04L624.73 1178.2L626.39 1183.31L622.04 1180.15L617.69 1183.31L619.35 1178.2L615 1175.04L620.38 1175.04ZM662.52 1172.71L664.18 1177.83L669.55 1177.83L665.2 1180.99L666.87 1186.1L662.52 1182.94L658.17 1186.1L659.83 1180.99L655.48 1177.83L660.85 1177.83ZM702.99 1169.61L704.65 1174.73L710.03 1174.73L705.68 1177.89L707.34 1183L702.99 1179.84L698.64 1183L700.3 1177.89L695.96 1174.73L701.33 1174.73ZM743.47 1169.46L745.13 1174.57L750.51 1174.57L746.16 1177.73L747.82 1182.85L743.47 1179.69L739.12 1182.85L740.78 1177.73L736.43 1174.57L741.81 1174.57ZM783.95 1169.61L785.61 1174.73L790.98 1174.73L786.64 1177.89L788.3 1183L783.95 1179.84L779.6 1183L781.26 1177.89L776.91 1174.73L782.29 1174.73ZM824.42 1169.15L826.09 1174.26L831.46 1174.26L827.11 1177.42L828.77 1182.54L824.42 1179.38L820.07 1182.54L821.74 1177.42L817.39 1174.26L822.76 1174.26ZM864.9 1169.15L866.56 1174.26L871.94 1174.26L867.59 1177.42L869.25 1182.54L864.9 1179.38L860.55 1182.54L862.21 1177.42L857.86 1174.26L863.24 1174.26ZM905.38 1169.61L907.04 1174.73L912.42 1174.73L908.07 1177.89L909.73 1183L905.38 1179.84L901.03 1183L902.69 1177.89L898.34 1174.73L903.72 1174.73ZM945.86 1170.7L947.52 1175.81L952.89 1175.81L948.54 1178.97L950.2 1184.09L945.86 1180.93L941.51 1184.09L943.17 1178.97L938.82 1175.81L944.19 1175.81ZM986.33 1169.15L987.99 1174.26L993.37 1174.26L989.02 1177.42L990.68 1182.54L986.33 1179.38L981.98 1182.54L983.64 1177.42L979.29 1174.26L984.67 1174.26ZM1026.81 1169.61L1028.47 1174.73L1033.85 1174.73L1029.5 1177.89L1031.16 1183L1026.81 1179.84L1022.46 1183L1024.12 1177.89L1019.77 1174.73L1025.15 1174.73ZM1067.29 1172.71L1068.95 1177.83L1074.32 1177.83L1069.97 1180.99L1071.64 1186.1L1067.29 1182.94L1062.94 1186.1L1064.6 1180.99L1060.25 1177.83L1065.62 1177.83ZM1107.76 1170.7L1109.42 1175.81L1114.8 1175.81L1110.45 1178.97L1112.11 1184.09L1107.76 1180.93L1103.41 1184.09L1105.07 1178.97L1100.73 1175.81L1106.1 1175.81ZM1148.24 1169.15L1149.9 1174.26L1155.28 1174.26L1150.93 1177.42L1152.59 1182.54L1148.24 1179.38L1143.89 1182.54L1145.55 1177.42L1141.2 1174.26L1146.58 1174.26ZM1188.72 1169.92L1190.38 1175.04L1195.75 1175.04L1191.41 1178.2L1193.07 1183.31L1188.72 1180.15L1184.37 1183.31L1186.03 1178.2L1181.68 1175.04L1187.06 1175.04ZM1229.19 1170.7L1230.86 1175.81L1236.23 1175.81L1231.88 1178.97L1233.54 1184.09L1229.19 1180.93L1224.84 1184.09L1226.51 1178.97L1222.16 1175.81L1227.53 1175.81ZM1269.67 1177.36L1271.33 1182.47L1276.71 1182.47L1272.36 1185.63L1274.02 1190.75L1269.67 1187.59L1265.32 1190.75L1266.98 1185.63L1262.63 1182.47L1268.01 1182.47ZM1310.15 1174.26L1311.81 1179.37L1317.19 1179.37L1312.84 1182.54L1314.5 1187.65L1310.15 1184.49L1305.8 1187.65L1307.46 1182.54L1303.11 1179.37L1308.49 1179.37ZM1350.62 1172.71L1352.29 1177.83L1357.66 1177.83L1353.31 1180.99L1354.97 1186.1L1350.62 1182.94L1346.28 1186.1L1347.94 1180.99L1343.59 1177.83L1348.96 1177.83ZM1391.1 1173.8L1392.76 1178.91L1398.14 1178.91L1393.79 1182.07L1395.45 1187.18L1391.1 1184.02L1386.75 1187.18L1388.41 1182.07L1384.06 1178.91L1389.44 1178.91ZM1431.58 1169.15L1433.24 1174.26L1438.62 1174.26L1434.27 1177.42L1435.93 1182.54L1431.58 1179.38L1427.23 1182.54L1428.89 1177.42L1424.54 1174.26L1429.92 1174.26ZM1472.06 1179.99L1473.72 1185.11L1479.09 1185.11L1474.74 1188.27L1476.41 1193.38L1472.06 1190.22L1467.71 1193.38L1469.37 1188.27L1465.02 1185.11L1470.39 1185.11ZM1512.53 1172.25L1514.19 1177.36L1519.57 1177.36L1515.22 1180.52L1516.88 1185.63L1512.53 1182.47L1508.18 1185.63L1509.84 1180.52L1505.5 1177.36L1510.87 1177.36ZM1553.01 1169.92L1554.67 1175.04L1560.05 1175.04L1555.7 1178.2L1557.36 1183.31L1553.01 1180.15L1548.66 1183.31L1550.32 1178.2L1545.97 1175.04L1551.35 1175.04ZM1593.49 1173.8L1595.15 1178.91L1600.52 1178.91L1596.18 1182.07L1597.84 1187.18L1593.49 1184.02L1589.14 1187.18L1590.8 1182.07L1586.45 1178.91L1591.83 1178.91ZM1633.96 1169.61L1635.63 1174.73L1641 1174.73L1636.65 1177.89L1638.31 1183L1633.96 1179.84L1629.61 1183L1631.28 1177.89L1626.93 1174.73L1632.3 1174.73ZM1674.44 1170.7L1676.1 1175.81L1681.48 1175.81L1677.13 1178.97L1678.79 1184.09L1674.44 1180.93L1670.09 1184.09L1671.75 1178.97L1667.4 1175.81L1672.78 1175.81ZM1714.92 1171.47L1716.58 1176.59L1721.96 1176.59L1717.61 1179.75L1719.27 1184.86L1714.92 1181.7L1710.57 1184.86L1712.23 1179.75L1707.88 1176.59L1713.26 1176.59ZM1755.39 1170.7L1757.06 1175.81L1762.43 1175.81L1758.08 1178.97L1759.74 1184.09L1755.39 1180.93L1751.05 1184.09L1752.71 1178.97L1748.36 1175.81L1753.73 1175.81ZM1795.87 1170.7L1797.53 1175.81L1802.91 1175.81L1798.56 1178.97L1800.22 1184.09L1795.87 1180.93L1791.52 1184.09L1793.18 1178.97L1788.83 1175.81L1794.21 1175.81ZM1836.35 1173.02L1838.01 1178.14L1843.39 1178.14L1839.04 1181.3L1840.7 1186.41L1836.35 1183.25L1832 1186.41L1833.66 1181.3L1829.31 1178.14L1834.69 1178.14ZM1876.83 1169.61L1878.49 1174.73L1883.86 1174.73L1879.51 1177.89L1881.18 1183L1876.83 1179.84L1872.48 1183L1874.14 1177.89L1869.79 1174.73L1875.16 1174.73ZM1917.3 1172.71L1918.96 1177.83L1924.34 1177.83L1919.99 1180.99L1921.65 1186.1L1917.3 1182.94L1912.95 1186.1L1914.61 1180.99L1910.27 1177.83L1915.64 1177.83ZM1957.78 1170.7L1959.44 1175.81L1964.82 1175.81L1960.47 1178.97L1962.13 1184.09L1957.78 1180.93L1953.43 1184.09L1955.09 1178.97L1950.74 1175.81L1956.12 1175.81ZM1998.26 1172.71L1999.92 1177.83L2005.29 1177.83L2000.95 1180.99L2002.61 1186.1L1998.26 1182.94L1993.91 1186.1L1995.57 1180.99L1991.22 1177.83L1996.6 1177.83ZM2038.73 1172.71L2040.4 1177.83L2045.77 1177.83L2041.42 1180.99L2043.08 1186.1L2038.73 1182.94L2034.38 1186.1L2036.05 1180.99L2031.7 1177.83L2037.07 1177.83ZM2079.21 1178.91L2080.87 1184.02L2086.25 1184.02L2081.9 1187.18L2083.56 1192.3L2079.21 1189.14L2074.86 1192.3L2076.52 1187.18L2072.17 1184.02L2077.55 1184.02ZM2119.69 1171.47L2121.35 1176.59L2126.73 1176.59L2122.38 1179.75L2124.04 1184.86L2119.69 1181.7L2115.34 1184.86L2117 1179.75L2112.65 1176.59L2118.03 1176.59ZM2160.16 1169.92L2161.83 1175.04L2167.2 1175.04L2162.85 1178.2L2164.51 1183.31L2160.16 1180.15L2155.82 1183.31L2157.48 1178.2L2153.13 1175.04L2158.5 1175.04ZM2200.64 1171.47L2202.3 1176.59L2207.68 1176.59L2203.33 1179.75L2204.99 1184.86L2200.64 1181.7L2196.29 1184.86L2197.95 1179.75L2193.6 1176.59L2198.98 1176.59ZM2241.12 1170.7L2242.78 1175.81L2248.16 1175.81L2243.81 1178.97L2245.47 1184.09L2241.12 1180.93L2236.77 1184.09L2238.43 1178.97L2234.08 1175.81L2239.46 1175.81Z"/>
<polyline class="ln" stroke="#008000" points="338.7,1185.84 379.18,1195.14 419.65,1201.33 460.13,1176.55 500.61,1525.07 541.09,1219.92 581.56,1334.55 622.04,1193.59 662.52,1255.55 702.99,1193.59 743.47,1212.18 783.95,1184.3 824.42,1176.55 864.9,1185.84 905.38,1176.55 945.86,1185.84 986.33,1176.55 1026.81,1204.43 1067.29,1195.14 1107.76,1185.84 1148.24,1176.55 1188.72,1182.75 1229.19,1246.25 1269.67,1481.7 1310.15,1794.6 1350.62,1315.96 1391.1,1438.33 1431.58,1272.59 1472.06,1289.63 1512.53,1385.66 1553.01,1252.45 1593.49,1365.53 1633.96,1255.55 1674.44,1247.8 1714.92,1359.33 1755.39,1271.04 1795.87,1351.59 1836.35,1201.33 1876.83,1272.59 1917.3,1308.21 1957.78,1350.04 1998.26,1333 2038.73,1368.63 2079.21,1298.92 2119.69,1246.25 2160.16,1280.33 2200.64,1359.33 2241.12,1193.59"/>
<path class="mk" fill="#008000" stroke="#008000" d="M338.7 1178.44L340.36 1183.56L345.74 1183.56L341.39 1186.72L343.05 1191.83L338.7 1188.67L334.35 1191.83L336.01 1186.72L331.66 1183.56L337.04 1183.56ZM379.18 1187.74L380.84 1192.85L386.21 1192.85L381.87 1196.01L383.53 1201.12L379.18 1197.96L374.83 1201.12L376.49 1196.01L372.14 1192.85L377.52 1192.85ZM419.65 1193.93L421.32 1199.05L426.69 1199.05L422.34 1202.21L424 1207.32L419.65 1204.16L415.3 1207.32L416.97 1202.21L412.62 1199.05L417.99 1199.05ZM460.13 1169.15L461.79 1174.26L467.17 1174.26L462.82 1177.42L464.48 1182.54L460.13 1179.38L455.78 1182.54L457.44 1177.42L453.09 1174.26L458.47 1174.26ZM500.61 1517.67L502.27 1522.79L507.65 1522.79L503.3 1525.95L504.96 1531.06L500.61 1527.9L496.26 1531.06L497.92 1525.95L493.57 1522.79L498.95 1522.79ZM541.09 1212.52L542.75 1217.64L548.12 1217.64L543.77 1220.8L545.43 1225.91L541.09 1222.75L536.74 1225.91L538.4 1220.8L534.05 1217.64L539.42 1217.64ZM581.56 1327.15L583.22 1332.26L588.6 1332.26L584.25 1335.42L585.91 1340.53L581.56 1337.37L577.21 1340.53L578.87 1335.42L574.52 1332.26L579.9 1332.26ZM622.04 1186.19L623.7 1191.3L629.08 1191.3L624.73 1194.46L626.39 1199.58L622.04 1196.42L617.69 1199.58L619.35 1194.46L615 1191.3L620.38 1191.3ZM662.52 1248.15L664.18 1253.26L669.55 1253.26L665.2 1256.42L666.87 1261.54L662.52 1258.38L658.17 1261.54L659.83 1256.42L655.48 1253.26L660.85 1253.26ZM702.99 1186.19L704.65 1191.3L710.03 1191.3L705.68 1194.46L707.34 1199.58L702.99 1196.42L698.64 1199.58L700.3 1194.46L695.96 1191.3L701.33 1191.3ZM743.47 1204.78L745.13 1209.89L750.51 1209.89L746.16 1213.05L747.82 1218.16L743.47 1215L739.12 1218.16L740.78 1213.05L736.43 1209.89L741.81 1209.89ZM783.95 1176.89L785.61 1182.01L790.98 1182.01L786.64 1185.17L788.3 1190.28L783.95 1187.12L779.6 1190.28L781.26 1185.17L776.91 1182.01L782.29 1182.01ZM824.42 1169.15L826.09 1174.26L831.46 1174.26L827.11 1177.42L828.77 1182.54L824.42 1179.38L820.07 1182.54L821.74 1177.42L817.39 1174.26L822.76 1174.26ZM864.9 1178.44L866.56 1183.56L871.94 1183.56L867.59 1186.72L869.25 1191.83L864.9 1188.67L860.55 1191.83L862.21 1186.72L857.86 1183.56L863.24 1183.56ZM905.38 1169.15L907.04 1174.26L912.42 1174.26L908.07 1177.42L909.73 1182.54L905.38 1179.38L901.03 1182.54L902.69 1177.42L898.34 1174.26L903.72 1174.26ZM945.86 1178.44L947.52 1183.56L952.89 1183.56L948.54 1186.72L950.2 1191.83L945.86 1188.67L941.51 1191.83L943.17 1186.72L938.82 1183.56L944.19 1183.56ZM986.33 1169.15L987.99 1174.26L993.37 1174.26L989.02 1177.42L990.68 1182.54L986.33 1179.38L981.98 1182.54L983.64 1177.42L979.29 1174.26L984.67 1174.26ZM1026.81 1197.03L1028.47 1202.15L1033.85 1202.15L1029.5 1205.31L1031.16 1210.42L1026.81 1207.26L1022.46 1210.42L1024.12 1205.31L1019.77 1202.15L1025.15 1202.15ZM1067.29 1187.74L1068.95 1192.85L1074.32 1192.85L1069.97 1196.01L1071.64 1201.12L1067.29 1197.96L1062.94 1201.12L1064.6 1196.01L1060.25 1192.85L1065.62 1192.85ZM1107.76 1178.44L1109.42 1183.56L1114.8 1183.56L1110.45 1186.72L1112.11 1191.83L1107.76 1188.67L1103.41 1191.83L1105.07 1186.72L1100.73 1183.56L1106.1 1183.56ZM1148.24 1169.15L1149.9 1174.26L1155.28 1174.26L1150.93 1177.42L1152.59 1182.54L1148.24 1179.38L1143.89 1182.54L1145.55 1177.42L1141.2 1174.26L1146.58 1174.26ZM1188.72 1175.35L1190.38 1180.46L1195.75 1180.46L1191.41 1183.62L1193.07 1188.73L1188.72 1185.57L1184.37 1188.73L1186.03 1183.62L1181.68 1180.46L1187.06 1180.46ZM1229.19 1238.85L1230.86 1243.97L1236.23 1243.97L1231.88 1247.13L1233.54 1252.24L1229.19 1249.08L1224.84 1252.24L1226.51 1247.13L1222.16 1243.97L1227.53 1243.97ZM1269.67 1474.3L1271.33 1479.42L1276.71 1479.42L1272.36 1482.58L1274.02 1487.69L1269.67 1484.53L1265.32 1487.69L1266.98 1482.58L1262.63 1479.42L1268.01 1479.42ZM1310.15 1787.2L1311.81 1792.31L1317.19 1792.31L1312.84 1795.47L1314.5 1800.59L1310.15 1797.43L1305.8 1800.59L1307.46 1795.47L1303.11 1792.31L1308.49 1792.31ZM1350.62 1308.56L1352.29 1313.67L1357.66 1313.67L1353.31 1316.83L1354.97 1321.95L1350.62 1318.79L1346.28 1321.95L1347.94 1316.83L1343.59 1313.67L1348.96 1313.67ZM1391.1 1430.93L1392.76 1436.04L1398.14 1436.04L1393.79 1439.2L1395.45 1444.32L1391.1 1441.16L1386.75 1444.32L1388.41 1439.2L1384.06 1436.04L1389.44 1436.04ZM1431.58 1265.19L1433.24 1270.3L1438.62 1270.3L1434.27 1273.46L1435.93 1278.57L1431.58 1275.41L1427.23 1278.57L1428.89 1273.46L1424.54 1270.3L1429.92 1270.3ZM1472.06 1282.23L1473.72 1287.34L1479.09 1287.34L1474.74 1290.5L1476.41 1295.61L1472.06 1292.45L1467.71 1295.61L1469.37 1290.5L1465.02 1287.34L1470.39 1287.34ZM1512.53 1378.26L1514.19 1383.38L1519.57 1383.38L1515.22 1386.54L1516.88 1391.65L1512.53 1388.49L1508.18 1391.65L1509.84 1386.54L1505.5 1383.38L1510.87 1383.38ZM1553.01 1245.05L1554.67 1250.16L1560.05 1250.16L1555.7 1253.32L1557.36 1258.44L1553.01 1255.28L1548.66 1258.44L1550.32 1253.32L1545.97 1250.16L1551.35 1250.16ZM1593.49 1358.13L1595.15 1363.24L1600.52 1363.24L1596.18 1366.4L1597.84 1371.51L1593.49 1368.35L1589.14 1371.51L1590.8 1366.4L1586.45 1363.24L1591.83 1363.24ZM1633.96 1248.15L1635.63 1253.26L1641 1253.26L1636.65 1256.42L1638.31 1261.54L1633.96 1258.38L1629.61 1261.54L1631.28 1256.42L1626.93 1253.26L1632.3 1253.26ZM1674.44 1240.4L1676.1 1245.52L1681.48 1245.52L1677.13 1248.68L1678.79 1253.79L1674.44 1250.63L1670.09 1253.79L1671.75 1248.68L1667.4 1245.52L1672.78 1245.52ZM1714.92 1351.93L1716.58 1357.05L1721.96 1357.05L1717.61 1360.21L1719.27 1365.32L1714.92 1362.16L1710.57 1365.32L1712.23 1360.21L1707.88 1357.05L1713.26 1357.05ZM1755.39 1263.64L1757.06 1268.75L1762.43 1268.75L1758.08 1271.91L1759.74 1277.03L1755.39 1273.87L1751.05 1277.03L1752.71 1271.91L1748.36 1268.75L1753.73 1268.75ZM1795.87 1344.19L1797.53 1349.3L1802.91 1349.3L1798.56 1352.46L1800.22 1357.57L1795.87 1354.41L1791.52 1357.57L1793.18 1352.46L1788.83 1349.3L1794.21 1349.3ZM1836.35 1193.93L1838.01 1199.05L1843.39 1199.05L1839.04 1202.21L1840.7 1207.32L1836.35 1204.16L1832 1207.32L1833.66 1202.21L1829.31 1199.05L1834.69 1199.05ZM1876.83 1265.19L1878.49 1270.3L1883.86 1270.3L1879.51 1273.46L1881.18 1278.57L1876.83 1275.41L1872.48 1278.57L1874.14 1273.46L1869.79 1270.3L1875.16 1270.3ZM1917.3 1300.81L1918.96 1305.93L1924.34 1305.93L1919.99 1309.09L1921.65 1314.2L1917.3 1311.04L1912.95 1314.2L1914.61 1309.09L1910.27 1305.93L1915.64 1305.93ZM1957.78 1342.64L1959.44 1347.75L1964.82 1347.75L1960.47 1350.91L1962.13 1356.02L1957.78 1352.86L1953.43 1356.02L1955.09 1350.91L1950.74 1347.75L1956.12 1347.75ZM1998.26 1325.6L1999.92 1330.71L2005.29 1330.71L2000.95 1333.87L2002.61 1338.99L1998.26 1335.83L1993.91 1338.99L1995.57 1333.87L1991.22 1330.71L1996.6 1330.71ZM2038.73 1361.23L2040.4 1366.34L2045.77 1366.34L2041.42 1369.5L2043.08 1374.61L2038.73 1371.45L2034.38 1374.61L2036.05 1369.5L2031.7 1366.34L2037.07 1366.34ZM2079.21 1291.52L2080.87 1296.63L2086.25 1296.63L2081.9 1299.79L2083.56 1304.91L2079.21 1301.75L2074.86 1304.91L2076.52 1299.79L2072.17 1296.63L2077.55 1296.63ZM2119.69 1238.85L2121.35 1243.97L2126.73 1243.97L2122.38 1247.13L2124.04 1252.24L2119.69 1249.08L2115.34 1252.24L2117 1247.13L2112.65 1243.97L2118.03 1243.97ZM2160.16 1272.93L2161.83 1278.05L2167.2 1278.05L2162.85 1281.21L2164.51 1286.32L2160.16 1283.16L2155.82 1286.32L2157.48 1281.21L2153.13 1278.05L2158.5 1278.05ZM2200.64 1351.93L2202.3 1357.05L2207.68 1357.05L2203.33 1360.21L2204.99 1365.32L2200.64 1362.16L2196.29 1365.32L2197.95 1360.21L2193.6 1357.05L2198.98 1357.05ZM2241.12 1186.19L2242.78 1191.3L2248.16 1191.3L2243.81 1194.46L2245.47 1199.58L2241.12 1196.42L2236.77 1199.58L2238.43 1194.46L2234.08 1191.3L2239.46 1191.3Z"/>
<polyline class="ln" stroke="#800000" points="338.7,1212.18 379.18,1176.55 419.65,1212.18 460.13,1193.59 500.61,1373.27 541.09,1254 581.56,1283.43 622.04,1198.24 662.52,1334.55 702.99,1201.33 743.47,1176.55 783.95,1212.18 824.42,1185.84 864.9,1176.55 905.38,1212.18 945.86,1235.41 986.33,1176.55 1026.81,1184.3 1067.29,1298.92 1107.76,1227.67 1148.24,1202.88 1188.72,1193.59 1229.19,1229.22 1269.67,1548.31 1310.15,1498.74 1350.62,1328.35 1391.1,1399.61 1431.58,1176.55 1472.06,1585.49 1512.53,1305.12 1553.01,1221.47 1593.49,1405.8 1633.96,1204.43 1674.44,1229.22 1714.92,1277.23 1755.39,1221.47 1795.87,1233.86 1836.35,1336.1 1876.83,1204.43 1917.3,1329.9 1957.78,1241.61 1998.26,1356.23 2038.73,1353.14 2079.21,1549.86 2119.69,1269.49 2160.16,1204.43 2200.64,1284.98 2241.12,1229.22"/>
<path class="mk" fill="#800000" stroke="#800000" d="M338.7 1204.78L340.36 1209.89L345.74 1209.89L341.39 1213.05L343.05 1218.16L338.7 1215L334.35 1218.16L336.01 1213.05L331.66 1209.89L337.04 1209.89ZM379.18 1169.15L380.84 1174.26L386.21 1174.26L381.87 1177.42L383.53 1182.54L379.18 1179.38L374.83 1182.54L376.49 1177.42L372.14 1174.26L377.52 1174.26ZM419.65 1204.78L421.32 1209.89L426.69 1209.89L422.34 1213.05L424 1218.16L419.65 1215L415.3 1218.16L416.97 1213.05L412.62 1209.89L417.99 1209.89ZM460.13 1186.19L461.79 1191.3L467.17 1191.3L462.82 1194.46L464.48 1199.58L460.13 1196.42L455.78 1199.58L457.44 1194.46L453.09 1191.3L458.47 1191.3ZM500.61 1365.87L502.27 1370.99L507.65 1370.99L503.3 1374.15L504.96 1379.26L500.61 1376.1L496.26 1379.26L497.92 1374.15L493.57 1370.99L498.95 1370.99ZM541.09 1246.6L542.75 1251.71L548.12 1251.71L543.77 1254.87L545.43 1259.99L541.09 1256.83L536.74 1259.99L538.4 1254.87L534.05 1251.71L539.42 1251.71ZM581.56 1276.03L583.22 1281.14L588.6 1281.14L584.25 1284.3L585.91 1289.42L581.56 1286.26L577.21 1289.42L578.87 1284.3L574.52 1281.14L579.9 1281.14ZM622.04 1190.84L623.7 1195.95L629.08 1195.95L624.73 1199.11L626.39 1204.22L622.04 1201.06L617.69 1204.22L619.35 1199.11L615 1195.95L620.38 1195.95ZM662.52 1327.15L664.18 1332.26L669.55 1332.26L665.2 1335.42L666.87 1340.53L662.52 1337.37L658.17 1340.53L659.83 1335.42L655.48 1332.26L660.85 1332.26ZM702.99 1193.93L704.65 1199.05L710.03 1199.05L705.68 1202.21L707.34 1207.32L702.99 1204.16L698.64 1207.32L700.3 1202.21L695.96 1199.05L701.33 1199.05ZM743.47 1169.15L745.13 1174.26L750.51 1174.26L746.16 1177.42L747.82 1182.54L743.47 1179.38L739.12 1182.54L740.78 1177.42L736.43 1174.26L741.81 1174.26ZM783.95 1204.78L785.61 1209.89L790.98 1209.89L786.64 1213.05L788.3 1218.16L783.95 1215L779.6 1218.16L781.26 1213.05L776.91 1209.89L782.29 1209.89ZM824.42 1178.44L826.09 1183.56L831.46 1183.56L827.11 1186.72L828.77 1191.83L824.42 1188.67L820.07 1191.83L821.74 1186.72L817.39 1183.56L822.76 1183.56ZM864.9 1169.15L866.56 1174.26L871.94 1174.26L867.59 1177.42L869.25 1182.54L864.9 1179.38L860.55 1182.54L862.21 1177.42L857.86 1174.26L863.24 1174.26ZM905.38 1204.78L907.04 1209.89L912.42 1209.89L908.07 1213.05L909.73 1218.16L905.38 1215L901.03 1218.16L902.69 1213.05L898.34 1209.89L903.72 1209.89ZM945.86 1228.01L947.52 1233.13L952.89 1233.13L948.54 1236.29L950.2 1241.4L945.86 1238.24L941.51 1241.4L943.17 1236.29L938.82 1233.13L944.19 1233.13ZM986.33 1169.15L987.99 1174.26L993.37 1174.26L989.02 1177.42L990.68 1182.54L986.33 1179.38L981.98 1182.54L983.64 1177.42L979.29 1174.26L984.67 1174.26ZM1026.81 1176.89L1028.47 1182.01L1033.85 1182.01L1029.5 1185.17L1031.16 1190.28L1026.81 1187.12L1022.46 1190.28L1024.12 1185.17L1019.77 1182.01L1025.15 1182.01ZM1067.29 1291.52L1068.95 1296.63L1074.32 1296.63L1069.97 1299.79L1071.64 1304.91L1067.29 1301.75L1062.94 1304.91L1064.6 1299.79L1060.25 1296.63L1065.62 1296.63ZM1107.76 1220.27L1109.42 1225.38L1114.8 1225.38L1110.45 1228.54L1112.11 1233.65L1107.76 1230.49L1103.41 1233.65L1105.07 1228.54L1100.73 1225.38L1106.1 1225.38ZM1148.24 1195.48L1149.9 1200.6L1155.28 1200.6L1150.93 1203.76L1152.59 1208.87L1148.24 1205.71L1143.89 1208.87L1145.55 1203.76L1141.2 1200.6L1146.58 1200.6ZM1188.72 1186.19L1190.38 1191.3L1195.75 1191.3L1191.41 1194.46L1193.07 1199.58L1188.72 1196.42L1184.37 1199.58L1186.03 1194.46L1181.68 1191.3L1187.06 1191.3ZM1229.19 1221.82L1230.86 1226.93L1236.23 1226.93L1231.88 1230.09L1233.54 1235.2L1229.19 1232.04L1224.84 1235.2L1226.51 1230.09L1222.16 1226.93L1227.53 1226.93ZM1269.67 1540.91L1271.33 1546.02L1276.71 1546.02L1272.36 1549.18L1274.02 1554.3L1269.67 1551.14L1265.32 1554.3L1266.98 1549.18L1262.63 1546.02L1268.01 1546.02ZM1310.15 1491.34L1311.81 1496.46L1317.19 1496.46L1312.84 1499.62L1314.5 1504.73L1310.15 1501.57L1305.8 1504.73L1307.46 1499.62L1303.11 1496.46L1308.49 1496.46ZM1350.62 1320.95L1352.29 1326.07L1357.66 1326.07L1353.31 1329.23L1354.97 1334.34L1350.62 1331.18L1346.28 1334.34L1347.94 1329.23L1343.59 1326.07L1348.96 1326.07ZM1391.1 1392.21L1392.76 1397.32L1398.14 1397.32L1393.79 1400.48L1395.45 1405.59L1391.1 1402.43L1386.75 1405.59L1388.41 1400.48L1384.06 1397.32L1389.44 1397.32ZM1431.58 1169.15L1433.24 1174.26L1438.62 1174.26L1434.27 1177.42L1435.93 1182.54L1431.58 1179.38L1427.23 1182.54L1428.89 1177.42L1424.54 1174.26L1429.92 1174.26ZM1472.06 1578.09L1473.72 1583.2L1479.09 1583.2L1474.74 1586.36L1476.41 1591.47L1472.06 1588.31L1467.71 1591.47L1469.37 1586.36L1465.02 1583.2L1470.39 1583.2ZM1512.53 1297.72L1514.19 1302.83L1519.57 1302.83L1515.22 1305.99L1516.88 1311.1L1512.53 1307.94L1508.18 1311.1L1509.84 1305.99L1505.5 1302.83L1510.87 1302.83ZM1553.01 1214.07L1554.67 1219.18L1560.05 1219.18L1555.7 1222.34L1557.36 1227.46L1553.01 1224.3L1548.66 1227.46L1550.32 1222.34L1545.97 1219.18L1551.35 1219.18ZM1593.49 1398.4L1595.15 1403.52L1600.52 1403.52L1596.18 1406.68L1597.84 1411.79L1593.49 1408.63L1589.14 1411.79L1590.8 1406.68L1586.45 1403.52L1591.83 1403.52ZM1633.96 1197.03L1635.63 1202.15L1641 1202.15L1636.65 1205.31L1638.31 1210.42L1633.96 1207.26L1629.61 1210.42L1631.28 1205.31L1626.93 1202.15L1632.3 1202.15ZM1674.44 1221.82L1676.1 1226.93L1681.48 1226.93L1677.13 1230.09L1678.79 1235.2L1674.44 1232.04L1670.09 1235.2L1671.75 1230.09L1667.4 1226.93L1672.78 1226.93ZM1714.92 1269.83L1716.58 1274.95L1721.96 1274.95L1717.61 1278.11L1719.27 1283.22L1714.92 1280.06L1710.57 1283.22L1712.23 1278.11L1707.88 1274.95L1713.26 1274.95ZM1755.39 1214.07L1757.06 1219.18L1762.43 1219.18L1758.08 1222.34L1759.74 1227.46L1755.39 1224.3L1751.05 1227.46L1752.71 1222.34L1748.36 1219.18L1753.73 1219.18ZM1795.87 1226.46L1797.53 1231.58L1802.91 1231.58L1798.56 1234.74L1800.22 1239.85L1795.87 1236.69L1791.52 1239.85L1793.18 1234.74L1788.83 1231.58L1794.21 1231.58ZM1836.35 1328.7L1838.01 1333.81L1843.39 1333.81L1839.04 1336.97L1840.7 1342.08L1836.35 1338.92L1832 1342.08L1833.66 1336.97L1829.31 1333.81L1834.69 1333.81ZM1876.83 1197.03L1878.49 1202.15L1883.86 1202.15L1879.51 1205.31L1881.18 1210.42L1876.83 1207.26L1872.48 1210.42L1874.14 1205.31L1869.79 1202.15L1875.16 1202.15ZM1917.3 1322.5L1918.96 1327.61L1924.34 1327.61L1919.99 1330.77L1921.65 1335.89L1917.3 1332.73L1912.95 1335.89L1914.61 1330.77L1910.27 1327.61L1915.64 1327.61ZM1957.78 1234.21L1959.44 1239.32L1964.82 1239.32L1960.47 1242.48L1962.13 1247.59L1957.78 1244.43L1953.43 1247.59L1955.09 1242.48L1950.74 1239.32L1956.12 1239.32ZM1998.26 1348.83L1999.92 1353.95L2005.29 1353.95L2000.95 1357.11L2002.61 1362.22L1998.26 1359.06L1993.91 1362.22L1995.57 1357.11L1991.22 1353.95L1996.6 1353.95ZM2038.73 1345.74L2040.4 1350.85L2045.77 1350.85L2041.42 1354.01L2043.08 1359.12L2038.73 1355.96L2034.38 1359.12L2036.05 1354.01L2031.7 1350.85L2037.07 1350.85ZM2079.21 1542.46L2080.87 1547.57L2086.25 1547.57L2081.9 1550.73L2083.56 1555.85L2079.21 1552.69L2074.86 1555.85L2076.52 1550.73L2072.17 1547.57L2077.55 1547.57ZM2119.69 1262.09L2121.35 1267.2L2126.73 1267.2L2122.38 1270.36L2124.04 1275.48L2119.69 1272.32L2115.34 1275.48L2117 1270.36L2112.65 1267.2L2118.03 1267.2ZM2160.16 1197.03L2161.83 1202.15L2167.2 1202.15L2162.85 1205.31L2164.51 1210.42L2160.16 1207.26L2155.82 1210.42L2157.48 1205.31L2153.13 1202.15L2158.5 1202.15ZM2200.64 1277.58L2202.3 1282.69L2207.68 1282.69L2203.33 1285.85L2204.99 1290.97L2200.64 1287.81L2196.29 1290.97L2197.95 1285.85L2193.6 1282.69L2198.98 1282.69ZM2241.12 1221.82L2242.78 1226.93L2248.16 1226.93L2243.81 1230.09L2245.47 1235.2L2241.12 1232.04L2236.77 1235.2L2238.43 1230.09L2234.08 1226.93L2239.46 1226.93Z"/>
<polyline class="ln" stroke="#800080" points="338.7,1199.12 379.18,1185.9 419.65,1206.77 460.13,1185.12 500.61,1453.69 541.09,1237.16 581.56,1309.45 622.04,1195.92 662.52,1296.14 702.99,1197.47 743.47,1194.57 783.95,1198.36 824.42,1181.21 864.9,1181.21 905.38,1194.57 945.86,1211.03 986.33,1176.55 1026.81,1194.43 1067.29,1248.85 1107.76,1207.04 1148.24,1189.83 1188.72,1188.19 1229.19,1237.78 1269.67,1515.92 1310.15,1666.95 1350.62,1322.18 1391.1,1419.26 1431.58,1226.11 1472.06,1454.55 1512.53,1346.57 1553.01,1237.12 1593.49,1385.97 1633.96,1230.43 1674.44,1238.57 1714.92,1319.48 1755.39,1246.67 1795.87,1295.14 1836.35,1271.83 1876.83,1239.29 1917.3,1319.14 1957.78,1297.88 1998.26,1344.71 2038.73,1360.92 2079.21,1436.49 2119.69,1257.96 2160.16,1243.35 2200.64,1323.14 2241.12,1211.61"/>
<path class="mk" fill="#800080" stroke="#800080" d="M338.7 1191.72L340.36 1196.84L345.74 1196.84L341.39 1200L343.05 1205.11L338.7 1201.95L334.35 1205.11L336.01 1200L331.66 1196.84L337.04 1196.84ZM379.18 1178.5L380.84 1183.61L386.21 1183.61L381.87 1186.77L383.53 1191.89L379.18 1188.73L374.83 1191.89L376.49 1186.77L372.14 1183.61L377.52 1183.61ZM419.65 1199.37L421.32 1204.49L426.69 1204.49L422.34 1207.65L424 1212.76L419.65 1209.6L415.3 1212.76L416.97 1207.65L412.62 1204.49L417.99 1204.49ZM460.13 1177.72L461.79 1182.83L467.17 1182.83L462.82 1185.99L464.48 1191.1L460.13 1187.94L455.78 1191.1L457.44 1185.99L453.09 1182.83L458.47 1182.83ZM500.61 1446.29L502.27 1451.4L507.65 1451.4L503.3 1454.56L504.96 1459.67L500.61 1456.51L496.26 1459.67L497.92 1454.56L493.57 1451.4L498.95 1451.4ZM541.09 1229.76L542.75 1234.87L548.12 1234.87L543.77 1238.03L545.43 1243.14L541.09 1239.98L536.74 1243.14L538.4 1238.03L534.05 1234.87L539.42 1234.87ZM581.56 1302.05L583.22 1307.16L588.6 1307.16L584.25 1310.32L585.91 1315.44L581.56 1312.28L577.21 1315.44L578.87 1310.32L574.52 1307.16L579.9 1307.16ZM622.04 1188.52L623.7 1193.63L629.08 1193.63L624.73 1196.79L626.39 1201.9L622.04 1198.74L617.69 1201.9L619.35 1196.79L615 1193.63L620.38 1193.63ZM662.52 1288.74L664.18 1293.85L669.55 1293.85L665.2 1297.01L666.87 1302.13L662.52 1298.97L658.17 1302.13L659.83 1297.01L655.48 1293.85L660.85 1293.85ZM702.99 1190.07L704.65 1195.18L710.03 1195.18L705.68 1198.34L707.34 1203.46L702.99 1200.3L698.64 1203.46L700.3 1198.34L695.96 1195.18L701.33 1195.18ZM743.47 1187.17L745.13 1192.28L750.51 1192.28L746.16 1195.44L747.82 1200.56L743.47 1197.4L739.12 1200.56L740.78 1195.44L736.43 1192.28L741.81 1192.28ZM783.95 1190.96L785.61 1196.08L790.98 1196.08L786.64 1199.24L788.3 1204.35L783.95 1201.19L779.6 1204.35L781.26 1199.24L776.91 1196.08L782.29 1196.08ZM824.42 1173.81L826.09 1178.92L831.46 1178.92L827.11 1182.08L828.77 1187.2L824.42 1184.04L820.07 1187.2L821.74 1182.08L817.39 1178.92L822.76 1178.92ZM864.9 1173.81L866.56 1178.92L871.94 1178.92L867.59 1182.08L869.25 1187.2L864.9 1184.04L860.55 1187.2L862.21 1182.08L857.86 1178.92L863.24 1178.92ZM905.38 1187.17L907.04 1192.28L912.42 1192.28L908.07 1195.44L909.73 1200.56L905.38 1197.4L901.03 1200.56L902.69 1195.44L898.34 1192.28L903.72 1192.28ZM945.86 1203.63L947.52 1208.75L952.89 1208.75L948.54 1211.91L950.2 1217.02L945.86 1213.86L941.51 1217.02L943.17 1211.91L938.82 1208.75L944.19 1208.75ZM986.33 1169.15L987.99 1174.26L993.37 1174.26L989.02 1177.42L990.68 1182.54L986.33 1179.38L981.98 1182.54L983.64 1177.42L979.29 1174.26L984.67 1174.26ZM1026.81 1187.03L1028.47 1192.14L1033.85 1192.14L1029.5 1195.3L1031.16 1200.42L1026.81 1197.26L1022.46 1200.42L1024.12 1195.3L1019.77 1192.14L1025.15 1192.14ZM1067.29 1241.45L1068.95 1246.56L1074.32 1246.56L1069.97 1249.72L1071.64 1254.84L1067.29 1251.68L1062.94 1254.84L1064.6 1249.72L1060.25 1246.56L1065.62 1246.56ZM1107.76 1199.64L1109.42 1204.76L1114.8 1204.76L1110.45 1207.92L1112.11 1213.03L1107.76 1209.87L1103.41 1213.03L1105.07 1207.92L1100.73 1204.76L1106.1 1204.76ZM1148.24 1182.43L1149.9 1187.54L1155.28 1187.54L1150.93 1190.7L1152.59 1195.82L1148.24 1192.66L1143.89 1195.82L1145.55 1190.7L1141.2 1187.54L1146.58 1187.54ZM1188.72 1180.79L1190.38 1185.9L1195.75 1185.9L1191.41 1189.06L1193.07 1194.17L1188.72 1191.01L1184.37 1194.17L1186.03 1189.06L1181.68 1185.9L1187.06 1185.9ZM1229.19 1230.38L1230.86 1235.5L1236.23 1235.5L1231.88 1238.66L1233.54 1243.77L1229.19 1240.61L1224.84 1243.77L1226.51 1238.66L1222.16 1235.5L1227.53 1235.5ZM1269.67 1508.52L1271.33 1513.64L1276.71 1513.64L1272.36 1516.8L1274.02 1521.91L1269.67 1518.75L1265.32 1521.91L1266.98 1516.8L1262.63 1513.64L1268.01 1513.64ZM1310.15 1659.55L1311.81 1664.67L1317.19 1664.67L1312.84 1667.83L1314.5 1672.94L1310.15 1669.78L1305.8 1672.94L1307.46 1667.83L1303.11 1664.67L1308.49 1664.67ZM1350.62 1314.78L1352.29 1319.9L1357.66 1319.9L1353.31 1323.06L1354.97 1328.17L1350.62 1325.01L1346.28 1328.17L1347.94 1323.06L1343.59 1319.9L1348.96 1319.9ZM1391.1 1411.86L1392.76 1416.97L1398.14 1416.97L1393.79 1420.13L1395.45 1425.24L1391.1 1422.08L1386.75 1425.24L1388.41 1420.13L1384.06 1416.97L1389.44 1416.97ZM1431.58 1218.71L1433.24 1223.82L1438.62 1223.82L1434.27 1226.98L1435.93 1232.09L1431.58 1228.93L1427.23 1232.09L1428.89 1226.98L1424.54 1223.82L1429.92 1223.82ZM1472.06 1447.15L1473.72 1452.26L1479.09 1452.26L1474.74 1455.42L1476.41 1460.53L1472.06 1457.37L1467.71 1460.53L1469.37 1455.42L1465.02 1452.26L1470.39 1452.26ZM1512.53 1339.17L1514.19 1344.28L1519.57 1344.28L1515.22 1347.44L1516.88 1352.55L1512.53 1349.39L1508.18 1352.55L1509.84 1347.44L1505.5 1344.28L1510.87 1344.28ZM1553.01 1229.72L1554.67 1234.84L1560.05 1234.84L1555.7 1238L1557.36 1243.11L1553.01 1239.95L1548.66 1243.11L1550.32 1238L1545.97 1234.84L1551.35 1234.84ZM1593.49 1378.57L1595.15 1383.68L1600.52 1383.68L1596.18 1386.84L1597.84 1391.95L1593.49 1388.79L1589.14 1391.95L1590.8 1386.84L1586.45 1383.68L1591.83 1383.68ZM1633.96 1223.03L1635.63 1228.14L1641 1228.14L1636.65 1231.3L1638.31 1236.41L1633.96 1233.25L1629.61 1236.41L1631.28 1231.3L1626.93 1228.14L1632.3 1228.14ZM1674.44 1231.17L1676.1 1236.28L1681.48 1236.28L1677.13 1239.44L1678.79 1244.55L1674.44 1241.39L1670.09 1244.55L1671.75 1239.44L1667.4 1236.28L1672.78 1236.28ZM1714.92 1312.08L1716.58 1317.19L1721.96 1317.19L1717.61 1320.35L1719.27 1325.47L1714.92 1322.31L1710.57 1325.47L1712.23 1320.35L1707.88 1317.19L1713.26 1317.19ZM1755.39 1239.27L1757.06 1244.38L1762.43 1244.38L1758.08 1247.54L1759.74 1252.66L1755.39 1249.5L1751.05 1252.66L1752.71 1247.54L1748.36 1244.38L1753.73 1244.38ZM1795.87 1287.74L1797.53 1292.86L1802.91 1292.86L1798.56 1296.02L1800.22 1301.13L1795.87 1297.97L1791.52 1301.13L1793.18 1296.02L1788.83 1292.86L1794.21 1292.86ZM1836.35 1264.43L1838.01 1269.55L1843.39 1269.55L1839.04 1272.71L1840.7 1277.82L1836.35 1274.66L1832 1277.82L1833.66 1272.71L1829.31 1269.55L1834.69 1269.55ZM1876.83 1231.89L1878.49 1237L1883.86 1237L1879.51 1240.16L1881.18 1245.28L1876.83 1242.12L1872.48 1245.28L1874.14 1240.16L1869.79 1237L1875.16 1237ZM1917.3 1311.74L1918.96 1316.85L1924.34 1316.85L1919.99 1320.02L1921.65 1325.13L1917.3 1321.97L1912.95 1325.13L1914.61 1320.02L1910.27 1316.85L1915.64 1316.85ZM1957.78 1290.48L1959.44 1295.59L1964.82 1295.59L1960.47 1298.75L1962.13 1303.87L1957.78 1300.71L1953.43 1303.87L1955.09 1298.75L1950.74 1295.59L1956.12 1295.59ZM1998.26 1337.31L1999.92 1342.43L2005.29 1342.43L2000.95 1345.59L2002.61 1350.7L1998.26 1347.54L1993.91 1350.7L1995.57 1345.59L1991.22 1342.43L1996.6 1342.43ZM2038.73 1353.52L2040.4 1358.64L2045.77 1358.64L2041.42 1361.8L2043.08 1366.91L2038.73 1363.75L2034.38 1366.91L2036.05 1361.8L2031.7 1358.64L2037.07 1358.64ZM2079.21 1429.09L2080.87 1434.2L2086.25 1434.2L2081.9 1437.36L2083.56 1442.48L2079.21 1439.32L2074.86 1442.48L2076.52 1437.36L2072.17 1434.2L2077.55 1434.2ZM2119.69 1250.56L2121.35 1255.68L2126.73 1255.68L2122.38 1258.84L2124.04 1263.95L2119.69 1260.79L2115.34 1263.95L2117 1258.84L2112.65 1255.68L2118.03 1255.68ZM2160.16 1235.95L2161.83 1241.07L2167.2 1241.07L2162.85 1244.23L2164.51 1249.34L2160.16 1246.18L2155.82 1249.34L2157.48 1244.23L2153.13 1241.07L2158.5 1241.07ZM2200.64 1315.74L2202.3 1320.85L2207.68 1320.85L2203.33 1324.01L2204.99 1329.13L2200.64 1325.97L2196.29 1329.13L2197.95 1324.01L2193.6 1320.85L2198.98 1320.85ZM2241.12 1204.21L2242.78 1209.33L2248.16 1209.33L2243.81 1212.49L2245.47 1217.6L2241.12 1214.44L2236.77 1217.6L2238.43 1212.49L2234.08 1209.33L2239.46 1209.33Z"/>
</g>
<path class="tk" d="M338.7 1825.35v8.5M743.47 1825.35v8.5M1148.24 1825.35v8.5M1553.01 1825.35v8.5M1957.78 1825.35v8.5M243.8 1796.15h-8.5M243.8 1718.7h-8.5M243.8 1641.25h-8.5M243.8 1563.8h-8.5M243.8 1486.35h-8.5M243.8 1408.9h-8.5M243.8 1331.45h-8.5M243.8 1254h-8.5M243.8 1176.55h-8.5"/>
<rect class="sp" x="243.8" y="1145.85" width="2092.4" height="679.5"/>
<text class="t" x="338.7" y="1881.3" text-anchor="middle">0</text>
<text class="t" x="743.47" y="1881.3" text-anchor="middle">10</text>
<text class="t" x="1148.24" y="1881.3" text-anchor="middle">20</text>
<text class="t" x="1553.01" y="1881.3" text-anchor="middle">30</text>
<text class="t" x="1957.78" y="1881.3" text-anchor="middle">40</text>
<text class="t" x="226.2" y="1815.1" text-anchor="end">60</text>
<text class="t" x="226.2" y="1737.65" text-anchor="end">65</text>
<text class="t" x="226.2" y="1660.2" text-anchor="end">70</text>
<text class="t" x="226.2" y="1582.75" text-anchor="end">75</text>
<text class="t" x="226.2" y="1505.3" text-anchor="end">80</text>
<text class="t" x="226.2" y="1427.85" text-anchor="end">85</text>
<text class="t" x="226.2" y="1350.4" text-anchor="end">90</text>
<text class="t" x="226.2" y="1272.95" text-anchor="end">95</text>
<text class="t" x="226.2" y="1195.5" text-anchor="end">100</text>
<text class="t" x="1290.8" y="1938.7" text-anchor="middle">Person ID</text>
<text class="t" transform="translate(109.9 1483.8) rotate(-90)" text-anchor="middle">Percentage (%)</text>
<rect class="lg" x="268.8" y="1491.85" width="437.7" height="308.5" rx="8" ry="8"/>
<path class="ln" stroke="#06106e" stroke-linecap="square" d="M288.8 1532H388.8"/>
<path class="mk" fill="#06106e" stroke="#06106e" d="M338.8 1524.6L340.46 1529.71L345.84 1529.71L341.49 1532.87L343.15 1537.99L338.8 1534.83L334.45 1537.99L336.11 1532.87L331.76 1529.71L337.14 1529.71Z"/>
<text class="t" x="428.8" y="1550.75">Specificity</text>
<path class="ln" stroke="#008000" stroke-linecap="square" d="M288.8 1605.5H388.8"/>
<path class="mk" fill="#008000" stroke="#008000" d="M338.8 1598.1L340.46 1603.21L345.84 1603.21L341.49 1606.37L343.15 1611.49L338.8 1608.33L334.45 1611.49L336.11 1606.37L331.76 1603.21L337.14 1603.21Z"/>
<text class="t" x="428.8" y="1622.95">Recall</text>
<path class="ln" stroke="#800000" stroke-linecap="square" d="M288.8 1678.8H388.8"/>
<path class="mk" fill="#800000" stroke="#800000" d="M338.8 1671.4L340.46 1676.51L345.84 1676.51L341.49 1679.67L343.15 1684.79L338.8 1681.63L334.45 1684.79L336.11 1679.67L331.76 1676.51L337.14 1676.51Z"/>
<text class="t" x="428.8" y="1695.65">Precision</text>
<path class="ln" stroke="#800080" stroke-linecap="square" d="M288.8 1752.2H388.8"/>
<path class="mk" fill="#800080" stroke="#800080" d="M338.8 1744.8L340.46 1749.91L345.84 1749.91L341.49 1753.07L343.15 1758.19L338.8 1755.03L334.45 1758.19L336.11 1753.07L331.76 1749.91L337.14 1749.91Z"/>
<text class="t" x="428.8" y="1770.15">F1 score</text>
</g>
<g class="chart">
<text class="t" x="1292.2" y="2182.2" text-anchor="middle" font-size="50">Classification Report of ResNet-152 for NSRDB database</text>
<clipPath id="c2"><rect x="243.8" y="2197" width="2092.4" height="679.5"/></clipPath>
<g clip-path="url(#c2)">
<polyline class="ln" stroke="#06106e" points="338.7,2242.56 450.6,2261.94 562.5,2232.51 674.4,2242.56 786.3,2232.51 898.2,2228.2 1010.1,2232.51 1122,2238.25 1233.9,2242.56 1345.8,2238.25 1457.7,2238.25 1569.6,2246.86 1681.5,2246.86 1793.4,2251.89 1905.3,2232.51 2017.2,2228.2 2129.1,2266.24 2241,2232.51"/>
<path class="mk" fill="#06106e" stroke="#06106e" d="M338.7 2235.16L340.36 2240.27L345.74 2240.27L341.39 2243.43L343.05 2248.54L338.7 2245.38L334.35 2248.54L336.01 2243.43L331.66 2240.27L337.04 2240.27ZM450.6 2254.54L452.26 2259.65L457.64 2259.65L453.29 2262.81L454.95 2267.92L450.6 2264.76L446.25 2267.92L447.91 2262.81L443.56 2259.65L448.94 2259.65ZM562.5 2225.11L564.16 2230.22L569.54 2230.22L565.19 2233.38L566.85 2238.49L562.5 2235.33L558.15 2238.49L559.81 2233.38L555.46 2230.22L560.84 2230.22ZM674.4 2235.16L676.06 2240.27L681.44 2240.27L677.09 2243.43L678.75 2248.54L674.4 2245.38L670.05 2248.54L671.71 2243.43L667.36 2240.27L672.74 2240.27ZM786.3 2225.11L787.96 2230.22L793.34 2230.22L788.99 2233.38L790.65 2238.49L786.3 2235.33L781.95 2238.49L783.61 2233.38L779.26 2230.22L784.64 2230.22ZM898.2 2220.8L899.86 2225.91L905.24 2225.91L900.89 2229.07L902.55 2234.19L898.2 2231.03L893.85 2234.19L895.51 2229.07L891.16 2225.91L896.54 2225.91ZM1010.1 2225.11L1011.76 2230.22L1017.14 2230.22L1012.79 2233.38L1014.45 2238.49L1010.1 2235.33L1005.75 2238.49L1007.41 2233.38L1003.06 2230.22L1008.44 2230.22ZM1122 2230.85L1123.66 2235.96L1129.04 2235.96L1124.69 2239.12L1126.35 2244.24L1122 2241.08L1117.65 2244.24L1119.31 2239.12L1114.96 2235.96L1120.34 2235.96ZM1233.9 2235.16L1235.56 2240.27L1240.94 2240.27L1236.59 2243.43L1238.25 2248.54L1233.9 2245.38L1229.55 2248.54L1231.21 2243.43L1226.86 2240.27L1232.24 2240.27ZM1345.8 2230.85L1347.46 2235.96L1352.84 2235.96L1348.49 2239.12L1350.15 2244.24L1345.8 2241.08L1341.45 2244.24L1343.11 2239.12L1338.76 2235.96L1344.14 2235.96ZM1457.7 2230.85L1459.36 2235.96L1464.74 2235.96L1460.39 2239.12L1462.05 2244.24L1457.7 2241.08L1453.35 2244.24L1455.01 2239.12L1450.66 2235.96L1456.04 2235.96ZM1569.6 2239.46L1571.26 2244.58L1576.64 2244.58L1572.29 2247.74L1573.95 2252.85L1569.6 2249.69L1565.25 2252.85L1566.91 2247.74L1562.56 2244.58L1567.94 2244.58ZM1681.5 2239.46L1683.16 2244.58L1688.54 2244.58L1684.19 2247.74L1685.85 2252.85L1681.5 2249.69L1677.15 2252.85L1678.81 2247.74L1674.46 2244.58L1679.84 2244.58ZM1793.4 2244.49L1795.06 2249.6L1800.44 2249.6L1796.09 2252.76L1797.75 2257.87L1793.4 2254.71L1789.05 2257.87L1790.71 2252.76L1786.36 2249.6L1791.74 2249.6ZM1905.3 2225.11L1906.96 2230.22L1912.34 2230.22L1907.99 2233.38L1909.65 2238.49L1905.3 2235.33L1900.95 2238.49L1902.61 2233.38L1898.26 2230.22L1903.64 2230.22ZM2017.2 2220.8L2018.86 2225.91L2024.24 2225.91L2019.89 2229.07L2021.55 2234.19L2017.2 2231.03L2012.85 2234.19L2014.51 2229.07L2010.16 2225.91L2015.54 2225.91ZM2129.1 2258.84L2130.76 2263.96L2136.14 2263.96L2131.79 2267.12L2133.45 2272.23L2129.1 2269.07L2124.75 2272.23L2126.41 2267.12L2122.06 2263.96L2127.44 2263.96ZM2241 2225.11L2242.66 2230.22L2248.04 2230.22L2243.69 2233.38L2245.35 2238.49L2241 2235.33L2236.65 2238.49L2238.31 2233.38L2233.96 2230.22L2239.34 2230.22Z"/>
<polyline class="ln" stroke="#008000" points="338.7,2470.16 450.6,2389.5 562.5,2550.81 674.4,2631.46 786.3,2550.81 898.2,2389.5 1010.1,2550.81 1122,2389.5 1233.9,2470.16 1345.8,2470.16 1457.7,2228.2 1569.6,2389.5 1681.5,2712.11 1793.4,2631.46 1905.3,2389.5 2017.2,2228.2 2129.1,2228.2 2241,2308.85"/>
<path class="mk" fill="#008000" stroke="#008000" d="M338.7 2462.76L340.36 2467.87L345.74 2467.87L341.39 2471.03L343.05 2476.14L338.7 2472.98L334.35 2476.14L336.01 2471.03L331.66 2467.87L337.04 2467.87ZM450.6 2382.1L452.26 2387.22L457.64 2387.22L453.29 2390.38L454.95 2395.49L450.6 2392.33L446.25 2395.49L447.91 2390.38L443.56 2387.22L448.94 2387.22ZM562.5 2543.41L564.16 2548.52L569.54 2548.52L565.19 2551.68L566.85 2556.79L562.5 2553.63L558.15 2556.79L559.81 2551.68L555.46 2548.52L560.84 2548.52ZM674.4 2624.06L676.06 2629.17L681.44 2629.17L677.09 2632.33L678.75 2637.45L674.4 2634.28L670.05 2637.45L671.71 2632.33L667.36 2629.17L672.74 2629.17ZM786.3 2543.41L787.96 2548.52L793.34 2548.52L788.99 2551.68L790.65 2556.79L786.3 2553.63L781.95 2556.79L783.61 2551.68L779.26 2548.52L784.64 2548.52ZM898.2 2382.1L899.86 2387.22L905.24 2387.22L900.89 2390.38L902.55 2395.49L898.2 2392.33L893.85 2395.49L895.51 2390.38L891.16 2387.22L896.54 2387.22ZM1010.1 2543.41L1011.76 2548.52L1017.14 2548.52L1012.79 2551.68L1014.45 2556.79L1010.1 2553.63L1005.75 2556.79L1007.41 2551.68L1003.06 2548.52L1008.44 2548.52ZM1122 2382.1L1123.66 2387.22L1129.04 2387.22L1124.69 2390.38L1126.35 2395.49L1122 2392.33L1117.65 2395.49L1119.31 2390.38L1114.96 2387.22L1120.34 2387.22ZM1233.9 2462.76L1235.56 2467.87L1240.94 2467.87L1236.59 2471.03L1238.25 2476.14L1233.9 2472.98L1229.55 2476.14L1231.21 2471.03L1226.86 2467.87L1232.24 2467.87ZM1345.8 2462.76L1347.46 2467.87L1352.84 2467.87L1348.49 2471.03L1350.15 2476.14L1345.8 2472.98L1341.45 2476.14L1343.11 2471.03L1338.76 2467.87L1344.14 2467.87ZM1457.7 2220.8L1459.36 2225.91L1464.74 2225.91L1460.39 2229.07L1462.05 2234.19L1457.7 2231.03L1453.35 2234.19L1455.01 2229.07L1450.66 2225.91L1456.04 2225.91ZM1569.6 2382.1L1571.26 2387.22L1576.64 2387.22L1572.29 2390.38L1573.95 2395.49L1569.6 2392.33L1565.25 2395.49L1566.91 2390.38L1562.56 2387.22L1567.94 2387.22ZM1681.5 2704.71L1683.16 2709.82L1688.54 2709.82L1684.19 2712.98L1685.85 2718.1L1681.5 2714.94L1677.15 2718.1L1678.81 2712.98L1674.46 2709.82L1679.84 2709.82ZM1793.4 2624.06L1795.06 2629.17L1800.44 2629.17L1796.09 2632.33L1797.75 2637.45L1793.4 2634.28L1789.05 2637.45L1790.71 2632.33L1786.36 2629.17L1791.74 2629.17ZM1905.3 2382.1L1906.96 2387.22L1912.34 2387.22L1907.99 2390.38L1909.65 2395.49L1905.3 2392.33L1900.95 2395.49L1902.61 2390.38L1898.26 2387.22L1903.64 2387.22ZM2017.2 2220.8L2018.86 2225.91L2024.24 2225.91L2019.89 2229.07L2021.55 2234.19L2017.2 2231.03L2012.85 2234.19L2014.51 2229.07L2010.16 2225.91L2015.54 2225.91ZM2129.1 2220.8L2130.76 2225.91L2136.14 2225.91L2131.79 2229.07L2133.45 2234.19L2129.1 2231.03L2124.75 2234.19L2126.41 2229.07L2122.06 2225.91L2127.44 2225.91ZM2241 2301.45L2242.66 2306.56L2248.04 2306.56L2243.69 2309.73L2245.35 2314.84L2241 2311.68L2236.65 2314.84L2238.31 2309.73L2233.96 2306.56L2239.34 2306.56Z"/>
<polyline class="ln" stroke="#800000" points="338.7,2470.82 450.6,2778.03 562.5,2310.03 674.4,2472.25 786.3,2310.03 898.2,2228.2 1010.1,2310.03 1122,2388.99 1233.9,2470.82 1345.8,2390.42 1457.7,2387.55 1569.6,2546.9 1681.5,2555.52 1793.4,2631.6 1905.3,2310.03 2017.2,2228.2 2129.1,2846.94 2241,2308.59"/>
<path class="mk" fill="#800000" stroke="#800000" d="M338.7 2463.42L340.36 2468.53L345.74 2468.53L341.39 2471.69L343.05 2476.8L338.7 2473.64L334.35 2476.8L336.01 2471.69L331.66 2468.53L337.04 2468.53ZM450.6 2770.63L452.26 2775.75L457.64 2775.75L453.29 2778.91L454.95 2784.02L450.6 2780.86L446.25 2784.02L447.91 2778.91L443.56 2775.75L448.94 2775.75ZM562.5 2302.63L564.16 2307.74L569.54 2307.74L565.19 2310.9L566.85 2316.02L562.5 2312.86L558.15 2316.02L559.81 2310.9L555.46 2307.74L560.84 2307.74ZM674.4 2464.85L676.06 2469.97L681.44 2469.97L677.09 2473.13L678.75 2478.24L674.4 2475.08L670.05 2478.24L671.71 2473.13L667.36 2469.97L672.74 2469.97ZM786.3 2302.63L787.96 2307.74L793.34 2307.74L788.99 2310.9L790.65 2316.02L786.3 2312.86L781.95 2316.02L783.61 2310.9L779.26 2307.74L784.64 2307.74ZM898.2 2220.8L899.86 2225.91L905.24 2225.91L900.89 2229.07L902.55 2234.19L898.2 2231.03L893.85 2234.19L895.51 2229.07L891.16 2225.91L896.54 2225.91ZM1010.1 2302.63L1011.76 2307.74L1017.14 2307.74L1012.79 2310.9L1014.45 2316.02L1010.1 2312.86L1005.75 2316.02L1007.41 2310.9L1003.06 2307.74L1008.44 2307.74ZM1122 2381.59L1123.66 2386.7L1129.04 2386.7L1124.69 2389.86L1126.35 2394.97L1122 2391.81L1117.65 2394.97L1119.31 2389.86L1114.96 2386.7L1120.34 2386.7ZM1233.9 2463.42L1235.56 2468.53L1240.94 2468.53L1236.59 2471.69L1238.25 2476.8L1233.9 2473.64L1229.55 2476.8L1231.21 2471.69L1226.86 2468.53L1232.24 2468.53ZM1345.8 2383.02L1347.46 2388.14L1352.84 2388.14L1348.49 2391.3L1350.15 2396.41L1345.8 2393.25L1341.45 2396.41L1343.11 2391.3L1338.76 2388.14L1344.14 2388.14ZM1457.7 2380.15L1459.36 2385.26L1464.74 2385.26L1460.39 2388.43L1462.05 2393.54L1457.7 2390.38L1453.35 2393.54L1455.01 2388.43L1450.66 2385.26L1456.04 2385.26ZM1569.6 2539.5L1571.26 2544.62L1576.64 2544.62L1572.29 2547.78L1573.95 2552.89L1569.6 2549.73L1565.25 2552.89L1566.91 2547.78L1562.56 2544.62L1567.94 2544.62ZM1681.5 2548.12L1683.16 2553.23L1688.54 2553.23L1684.19 2556.39L1685.85 2561.5L1681.5 2558.34L1677.15 2561.5L1678.81 2556.39L1674.46 2553.23L1679.84 2553.23ZM1793.4 2624.2L1795.06 2629.32L1800.44 2629.32L1796.09 2632.48L1797.75 2637.59L1793.4 2634.43L1789.05 2637.59L1790.71 2632.48L1786.36 2629.32L1791.74 2629.32ZM1905.3 2302.63L1906.96 2307.74L1912.34 2307.74L1907.99 2310.9L1909.65 2316.02L1905.3 2312.86L1900.95 2316.02L1902.61 2310.9L1898.26 2307.74L1903.64 2307.74ZM2017.2 2220.8L2018.86 2225.91L2024.24 2225.91L2019.89 2229.07L2021.55 2234.19L2017.2 2231.03L2012.85 2234.19L2014.51 2229.07L2010.16 2225.91L2015.54 2225.91ZM2129.1 2839.54L2130.76 2844.66L2136.14 2844.66L2131.79 2847.82L2133.45 2852.93L2129.1 2849.77L2124.75 2852.93L2126.41 2847.82L2122.06 2844.66L2127.44 2844.66ZM2241 2301.19L2242.66 2306.31L2248.04 2306.31L2243.69 2309.47L2245.35 2314.58L2241 2311.42L2236.65 2314.58L2238.31 2309.47L2233.96 2306.31L2239.34 2306.31Z"/>
<polyline class="ln" stroke="#800080" points="338.7,2470.49 450.6,2586.46 562.5,2431.44 674.4,2552.31 786.3,2431.44 898.2,2309.31 1010.1,2431.44 1122,2389.25 1233.9,2470.49 1345.8,2430.4 1457.7,2308.32 1569.6,2468.64 1681.5,2634.25 1793.4,2631.53 1905.3,2349.88 2017.2,2228.2 2129.1,2544.39 2241,2308.72"/>
<path class="mk" fill="#800080" stroke="#800080" d="M338.7 2463.09L340.36 2468.2L345.74 2468.2L341.39 2471.36L343.05 2476.47L338.7 2473.31L334.35 2476.47L336.01 2471.36L331.66 2468.2L337.04 2468.2ZM450.6 2579.06L452.26 2584.18L457.64 2584.18L453.29 2587.34L454.95 2592.45L450.6 2589.29L446.25 2592.45L447.91 2587.34L443.56 2584.18L448.94 2584.18ZM562.5 2424.04L564.16 2429.16L569.54 2429.16L565.19 2432.32L566.85 2437.43L562.5 2434.27L558.15 2437.43L559.81 2432.32L555.46 2429.16L560.84 2429.16ZM674.4 2544.91L676.06 2550.02L681.44 2550.02L677.09 2553.18L678.75 2558.29L674.4 2555.13L670.05 2558.29L671.71 2553.18L667.36 2550.02L672.74 2550.02ZM786.3 2424.04L787.96 2429.16L793.34 2429.16L788.99 2432.32L790.65 2437.43L786.3 2434.27L781.95 2437.43L783.61 2432.32L779.26 2429.16L784.64 2429.16ZM898.2 2301.91L899.86 2307.02L905.24 2307.02L900.89 2310.18L902.55 2315.29L898.2 2312.13L893.85 2315.29L895.51 2310.18L891.16 2307.02L896.54 2307.02ZM1010.1 2424.04L1011.76 2429.16L1017.14 2429.16L1012.79 2432.32L1014.45 2437.43L1010.1 2434.27L1005.75 2437.43L1007.41 2432.32L1003.06 2429.16L1008.44 2429.16ZM1122 2381.85L1123.66 2386.96L1129.04 2386.96L1124.69 2390.12L1126.35 2395.23L1122 2392.07L1117.65 2395.23L1119.31 2390.12L1114.96 2386.96L1120.34 2386.96ZM1233.9 2463.09L1235.56 2468.2L1240.94 2468.2L1236.59 2471.36L1238.25 2476.47L1233.9 2473.31L1229.55 2476.47L1231.21 2471.36L1226.86 2468.2L1232.24 2468.2ZM1345.8 2423L1347.46 2428.11L1352.84 2428.11L1348.49 2431.27L1350.15 2436.39L1345.8 2433.23L1341.45 2436.39L1343.11 2431.27L1338.76 2428.11L1344.14 2428.11ZM1457.7 2300.92L1459.36 2306.03L1464.74 2306.03L1460.39 2309.19L1462.05 2314.31L1457.7 2311.15L1453.35 2314.31L1455.01 2309.19L1450.66 2306.03L1456.04 2306.03ZM1569.6 2461.24L1571.26 2466.36L1576.64 2466.36L1572.29 2469.52L1573.95 2474.63L1569.6 2471.47L1565.25 2474.63L1566.91 2469.52L1562.56 2466.36L1567.94 2466.36ZM1681.5 2626.85L1683.16 2631.97L1688.54 2631.97L1684.19 2635.13L1685.85 2640.24L1681.5 2637.08L1677.15 2640.24L1678.81 2635.13L1674.46 2631.97L1679.84 2631.97ZM1793.4 2624.13L1795.06 2629.24L1800.44 2629.24L1796.09 2632.4L1797.75 2637.52L1793.4 2634.36L1789.05 2637.52L1790.71 2632.4L1786.36 2629.24L1791.74 2629.24ZM1905.3 2342.48L1906.96 2347.59L1912.34 2347.59L1907.99 2350.75L1909.65 2355.86L1905.3 2352.7L1900.95 2355.86L1902.61 2350.75L1898.26 2347.59L1903.64 2347.59ZM2017.2 2220.8L2018.86 2225.91L2024.24 2225.91L2019.89 2229.07L2021.55 2234.19L2017.2 2231.03L2012.85 2234.19L2014.51 2229.07L2010.16 2225.91L2015.54 2225.91ZM2129.1 2536.99L2130.76 2542.1L2136.14 2542.1L2131.79 2545.26L2133.45 2550.37L2129.1 2547.21L2124.75 2550.37L2126.41 2545.26L2122.06 2542.1L2127.44 2542.1ZM2241 2301.32L2242.66 2306.44L2248.04 2306.44L2243.69 2309.6L2245.35 2314.71L2241 2311.55L2236.65 2314.71L2238.31 2309.6L2233.96 2306.44L2239.34 2306.44Z"/>
</g>
<path class="tk" d="M338.7 2876.5v8.5M618.45 2876.5v8.5M898.2 2876.5v8.5M1177.95 2876.5v8.5M1457.7 2876.5v8.5M1737.45 2876.5v8.5M2017.2 2876.5v8.5M2296.95 2876.5v8.5M243.8 2802.44h-8.5M243.8 2658.88h-8.5M243.8 2515.32h-8.5M243.8 2371.76h-8.5M243.8 2228.2h-8.5"/>
<rect class="sp" x="243.8" y="2197" width="2092.4" height="679.5"/>
<text class="t" x="338.7" y="2931.6" text-anchor="middle">0.0</text>
<text class="t" x="618.45" y="2931.6" text-anchor="middle">2.5</text>
<text class="t" x="898.2" y="2931.6" text-anchor="middle">5.0</text>
<text class="t" x="1177.95" y="2931.6" text-anchor="middle">7.5</text>
<text class="t" x="1457.7" y="2931.6" text-anchor="middle">10.0</text>
<text class="t" x="1737.45" y="2931.6" text-anchor="middle">12.5</text>
<text class="t" x="2017.2" y="2931.6" text-anchor="middle">15.0</text>
<text class="t" x="2296.95" y="2931.6" text-anchor="middle">17.5</text>
<text class="t" x="226.2" y="2820.54" text-anchor="end">96</text>
<text class="t" x="226.2" y="2676.98" text-anchor="end">97</text>
<text class="t" x="226.2" y="2533.42" text-anchor="end">98</text>
<text class="t" x="226.2" y="2389.86" text-anchor="end">99</text>
<text class="t" x="226.2" y="2246.3" text-anchor="end">100</text>
<text class="t" x="1290.8" y="2989.9" text-anchor="middle">Person ID</text>
<text class="t" transform="translate(109.9 2534.95) rotate(-90)" text-anchor="middle">Percentage (%)</text>
<rect class="lg" x="1071.15" y="2543" width="437.7" height="308.5" rx="8" ry="8"/>
<path class="ln" stroke="#06106e" stroke-linecap="square" d="M1091.15 2583.5H1191.15"/>
<path class="mk" fill="#06106e" stroke="#06106e" d="M1141.15 2576.1L1142.81 2581.21L1148.19 2581.21L1143.84 2584.37L1145.5 2589.49L1141.15 2586.33L1136.8 2589.49L1138.46 2584.37L1134.11 2581.21L1139.49 2581.21Z"/>
<text class="t" x="1231.15" y="2600.5">Specificity</text>
<path class="ln" stroke="#008000" stroke-linecap="square" d="M1091.15 2656.5H1191.15"/>
<path class="mk" fill="#008000" stroke="#008000" d="M1141.15 2649.1L1142.81 2654.21L1148.19 2654.21L1143.84 2657.37L1145.5 2662.49L1141.15 2659.33L1136.8 2662.49L1138.46 2657.37L1134.11 2654.21L1139.49 2654.21Z"/>
<text class="t" x="1231.15" y="2674.1">Recall</text>
<path class="ln" stroke="#800000" stroke-linecap="square" d="M1091.15 2730.5H1191.15"/>
<path class="mk" fill="#800000" stroke="#800000" d="M1141.15 2723.1L1142.81 2728.21L1148.19 2728.21L1143.84 2731.37L1145.5 2736.49L1141.15 2733.33L1136.8 2736.49L1138.46 2731.37L1134.11 2728.21L1139.49 2728.21Z"/>
<text class="t" x="1231.15" y="2747.7">Precision</text>
<path class="ln" stroke="#800080" stroke-linecap="square" d="M1091.15 2803.5H1191.15"/>
<path class="mk" fill="#800080" stroke="#800080" d="M1141.15 2796.1L1142.81 2801.21L1148.19 2801.21L1143.84 2804.37L1145.5 2809.49L1141.15 2806.33L1136.8 2809.49L1138.46 2804.37L1134.11 2801.21L1139.49 2801.21Z"/>
<text class="t" x="1231.15" y="2821.3">F1 score</text>
</g>
<text class="cap"><tspan x="1157.49" y="1015.68" font-size="86.78" textLength="25.99" lengthAdjust="spacingAndGlyphs">(</tspan><tspan class="b" x="1184.77" y="1016.97" font-size="85.26" textLength="40.55" lengthAdjust="spacingAndGlyphs">a</tspan><tspan x="1225.48" y="1015.68" font-size="86.78" textLength="25.74" lengthAdjust="spacingAndGlyphs">)</tspan></text>
<text class="cap"><tspan x="1152.42" y="2066.60" font-size="86.67" textLength="26.12" lengthAdjust="spacingAndGlyphs">(</tspan><tspan class="b" x="1178.65" y="2067.84" font-size="85.86" textLength="50.05" lengthAdjust="spacingAndGlyphs">b</tspan><tspan x="1230.73" y="2066.60" font-size="86.67" textLength="25.23" lengthAdjust="spacingAndGlyphs">)</tspan></text>
<text class="cap"><tspan x="1167.57" y="3117.47" font-size="86.33" textLength="26.12" lengthAdjust="spacingAndGlyphs">(</tspan><tspan class="b" x="1194.15" y="3118.65" font-size="85.00" textLength="36.08" lengthAdjust="spacingAndGlyphs">c</tspan><tspan x="1231.59" y="3117.47" font-size="86.33" textLength="25.62" lengthAdjust="spacingAndGlyphs">)</tspan></text>
</svg>
</body>
</html>
